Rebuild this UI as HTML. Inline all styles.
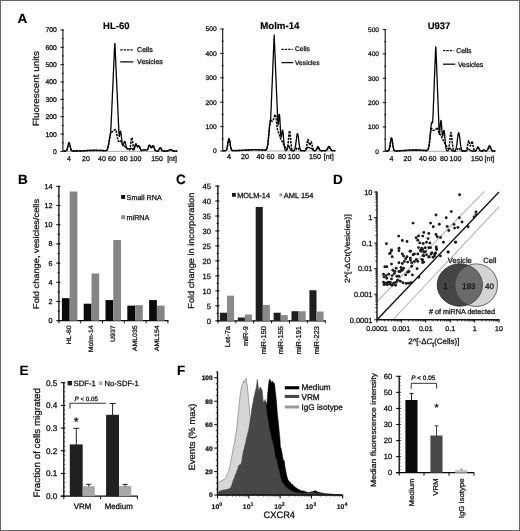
<!DOCTYPE html>
<html lang="en">
<head>
<meta charset="utf-8">
<title>Figure</title>
<style>
html,body{margin:0;padding:0;background:#fff;}
body{width:520px;height:531px;overflow:hidden;position:relative;}
svg{position:absolute;left:0;top:0;display:block;font-family:'Liberation Sans', Arial, sans-serif;}
.frame{position:absolute;left:0;top:0;width:518px;height:529px;border:1px solid #666;}
</style>
</head>
<body>
<svg width="520" height="531" viewBox="0 0 520 531" text-rendering="geometricPrecision">
<text x="17.50" y="23.30" font-size="13.5" font-weight="bold" fill="#000" stroke="#000" stroke-width="0.15">A</text>
<text x="18.00" y="184.00" font-size="13.5" font-weight="bold" fill="#000" stroke="#000" stroke-width="0.15">B</text>
<text x="176.00" y="184.00" font-size="13.5" font-weight="bold" fill="#000" stroke="#000" stroke-width="0.15">C</text>
<text x="333.00" y="184.00" font-size="13.5" font-weight="bold" fill="#000" stroke="#000" stroke-width="0.15">D</text>
<text x="19.50" y="374.80" font-size="13.5" font-weight="bold" fill="#000" stroke="#000" stroke-width="0.15">E</text>
<text x="177.00" y="374.80" font-size="13.5" font-weight="bold" fill="#000" stroke="#000" stroke-width="0.15">F</text>
<line x1="62.90" y1="29.65" x2="62.90" y2="151.90" stroke="#111" stroke-width="1.1" />
<line x1="60.40" y1="151.40" x2="63.90" y2="151.40" stroke="#111" stroke-width="1.0" />
<text x="56.80" y="153.85" font-size="6.8" text-anchor="end" fill="#111" stroke="#111" stroke-width="0.28">0</text>
<line x1="61.70" y1="142.72" x2="63.90" y2="142.72" stroke="#111" stroke-width="0.8" />
<line x1="60.40" y1="134.05" x2="63.90" y2="134.05" stroke="#111" stroke-width="1.0" />
<text x="56.80" y="136.50" font-size="6.8" text-anchor="end" fill="#111" stroke="#111" stroke-width="0.28">100</text>
<line x1="61.70" y1="125.38" x2="63.90" y2="125.38" stroke="#111" stroke-width="0.8" />
<line x1="60.40" y1="116.70" x2="63.90" y2="116.70" stroke="#111" stroke-width="1.0" />
<text x="56.80" y="119.15" font-size="6.8" text-anchor="end" fill="#111" stroke="#111" stroke-width="0.28">200</text>
<line x1="61.70" y1="108.03" x2="63.90" y2="108.03" stroke="#111" stroke-width="0.8" />
<line x1="60.40" y1="99.35" x2="63.90" y2="99.35" stroke="#111" stroke-width="1.0" />
<text x="56.80" y="101.80" font-size="6.8" text-anchor="end" fill="#111" stroke="#111" stroke-width="0.28">300</text>
<line x1="61.70" y1="90.68" x2="63.90" y2="90.68" stroke="#111" stroke-width="0.8" />
<line x1="60.40" y1="82.00" x2="63.90" y2="82.00" stroke="#111" stroke-width="1.0" />
<text x="56.80" y="84.45" font-size="6.8" text-anchor="end" fill="#111" stroke="#111" stroke-width="0.28">400</text>
<line x1="61.70" y1="73.33" x2="63.90" y2="73.33" stroke="#111" stroke-width="0.8" />
<line x1="60.40" y1="64.65" x2="63.90" y2="64.65" stroke="#111" stroke-width="1.0" />
<text x="56.80" y="67.10" font-size="6.8" text-anchor="end" fill="#111" stroke="#111" stroke-width="0.28">500</text>
<line x1="61.70" y1="55.98" x2="63.90" y2="55.98" stroke="#111" stroke-width="0.8" />
<line x1="60.40" y1="47.30" x2="63.90" y2="47.30" stroke="#111" stroke-width="1.0" />
<text x="56.80" y="49.75" font-size="6.8" text-anchor="end" fill="#111" stroke="#111" stroke-width="0.28">600</text>
<line x1="61.70" y1="38.63" x2="63.90" y2="38.63" stroke="#111" stroke-width="0.8" />
<line x1="60.40" y1="29.95" x2="63.90" y2="29.95" stroke="#111" stroke-width="1.0" />
<text x="56.80" y="32.40" font-size="6.8" text-anchor="end" fill="#111" stroke="#111" stroke-width="0.28">700</text>
<line x1="62.90" y1="151.40" x2="178.00" y2="151.40" stroke="#aaa" stroke-width="1.0" />
<text x="69.00" y="160.80" font-size="7.0" text-anchor="middle" fill="#111" stroke="#111" stroke-width="0.28">4</text>
<text x="86.00" y="160.80" font-size="7.0" text-anchor="middle" fill="#111" stroke="#111" stroke-width="0.28">20</text>
<text x="102.00" y="160.80" font-size="7.0" text-anchor="middle" fill="#111" stroke="#111" stroke-width="0.28">40</text>
<text x="112.00" y="160.80" font-size="7.0" text-anchor="middle" fill="#111" stroke="#111" stroke-width="0.28">60</text>
<text x="123.70" y="160.80" font-size="7.0" text-anchor="middle" fill="#111" stroke="#111" stroke-width="0.28">80</text>
<text x="135.50" y="160.80" font-size="7.0" text-anchor="middle" fill="#111" stroke="#111" stroke-width="0.28">100</text>
<text x="157.00" y="160.80" font-size="7.0" text-anchor="middle" fill="#111" stroke="#111" stroke-width="0.28">150</text>
<text x="172.00" y="160.80" font-size="7.0" text-anchor="middle" fill="#111" stroke="#111" stroke-width="0.28">[nt]</text>
<text x="116.30" y="29.20" font-size="9.5" text-anchor="middle" font-weight="bold" fill="#000" stroke="#000" stroke-width="0.15">HL-60</text>
<path d="M63.4,151.1 L63.6,151.1 L63.9,151.1 L64.2,151.1 L64.4,151.1 L64.7,151.1 L64.9,151.1 L65.2,151.1 L65.4,151.1 L65.7,151.0 L65.9,151.0 L66.2,150.8 L66.4,150.6 L66.7,150.3 L66.9,149.9 L67.2,149.2 L67.4,148.4 L67.7,147.5 L67.9,146.5 L68.2,145.4 L68.4,144.5 L68.7,143.8 L68.9,143.5 L69.2,143.5 L69.4,143.9 L69.7,144.7 L69.9,145.6 L70.2,146.7 L70.4,147.7 L70.7,148.6 L70.9,149.4 L71.2,149.9 L71.4,150.4 L71.7,150.7 L71.9,150.8 L72.2,150.9 L72.4,151.0 L72.7,151.0 L72.9,151.1 L73.2,151.1 L73.4,151.1 L73.7,151.1 L73.9,151.1 L74.2,151.1 L74.4,151.0 L74.7,151.0 L74.9,151.0 L75.2,151.0 L75.4,151.0 L75.7,151.0 L75.9,151.0 L76.2,151.0 L76.4,151.0 L76.7,151.0 L76.9,151.0 L77.2,151.0 L77.4,151.0 L77.7,151.0 L77.9,151.0 L78.2,151.0 L78.4,151.0 L78.7,151.0 L78.9,151.0 L79.2,151.0 L79.4,150.9 L79.7,150.9 L79.9,150.9 L80.2,150.9 L80.4,150.9 L80.7,150.9 L80.9,150.9 L81.2,150.9 L81.4,150.9 L81.7,150.9 L81.9,150.9 L82.2,150.8 L82.4,150.8 L82.7,150.8 L82.9,150.8 L83.2,150.8 L83.4,150.8 L83.7,150.8 L83.9,150.8 L84.2,150.8 L84.4,150.8 L84.7,150.7 L84.9,150.7 L85.2,150.7 L85.4,150.7 L85.7,150.7 L85.9,150.7 L86.2,150.7 L86.4,150.7 L86.7,150.6 L86.9,150.6 L87.2,150.6 L87.4,150.6 L87.7,150.6 L87.9,150.6 L88.2,150.6 L88.4,150.6 L88.7,150.6 L88.9,150.5 L89.2,150.5 L89.4,150.5 L89.7,150.5 L89.9,150.5 L90.2,150.5 L90.4,150.5 L90.7,150.5 L90.9,150.5 L91.2,150.5 L91.4,150.5 L91.7,150.5 L91.9,150.4 L92.2,150.4 L92.4,150.4 L92.7,150.4 L92.9,150.4 L93.2,150.4 L93.4,150.4 L93.7,150.4 L93.9,150.4 L94.2,150.4 L94.4,150.4 L94.7,150.4 L94.9,150.4 L95.2,150.4 L95.4,150.4 L95.7,150.4 L95.9,150.4 L96.2,150.4 L96.4,150.4 L96.7,150.4 L96.9,150.4 L97.2,150.4 L97.4,150.4 L97.7,150.4 L97.9,150.4 L98.2,150.4 L98.4,150.5 L98.7,150.5 L98.9,150.5 L99.2,150.5 L99.4,150.5 L99.7,150.5 L99.9,150.5 L100.2,150.5 L100.4,150.5 L100.7,150.5 L100.9,150.5 L101.2,150.6 L101.4,150.6 L101.7,150.6 L101.9,150.6 L102.2,150.6 L102.4,150.6 L102.7,150.6 L102.9,150.6 L103.2,150.6 L103.4,150.7 L103.7,150.7 L103.9,150.7 L104.2,150.7 L104.4,150.7 L104.7,150.7 L104.9,150.7 L105.2,150.7 L105.4,150.7 L105.7,150.7 L105.9,150.6 L106.2,150.5 L106.4,150.4 L106.7,150.2 L106.9,150.0 L107.2,149.6 L107.4,149.2 L107.7,148.5 L107.9,147.8 L108.2,146.8 L108.4,145.7 L108.7,144.4 L108.9,143.0 L109.2,141.4 L109.4,139.9 L109.7,138.3 L109.9,136.9 L110.2,135.6 L110.4,134.5 L110.7,133.6 L110.9,133.0 L111.2,132.6 L111.4,132.3 L111.7,132.1 L111.9,132.0 L112.2,131.9 L112.4,131.8 L112.7,131.6 L112.9,131.5 L113.2,131.2 L113.4,131.0 L113.7,130.8 L113.9,130.5 L114.2,130.2 L114.4,130.0 L114.7,129.7 L114.9,129.6 L115.2,129.5 L115.4,129.5 L115.7,129.8 L115.9,130.3 L116.2,131.1 L116.4,132.2 L116.7,133.5 L116.9,135.0 L117.2,136.4 L117.4,137.9 L117.7,139.1 L117.9,140.1 L118.2,140.8 L118.4,141.3 L118.7,141.4 L118.9,141.4 L119.2,141.2 L119.4,140.9 L119.7,140.7 L119.9,140.6 L120.2,140.5 L120.4,140.6 L120.7,140.8 L120.9,141.2 L121.2,141.6 L121.4,142.1 L121.7,142.6 L121.9,143.1 L122.2,143.5 L122.4,143.9 L122.7,144.3 L122.9,144.6 L123.2,144.9 L123.4,145.1 L123.7,145.4 L123.9,145.6 L124.2,145.9 L124.4,146.1 L124.7,146.4 L124.9,146.6 L125.2,146.9 L125.4,147.1 L125.7,147.3 L125.9,147.5 L126.2,147.7 L126.4,147.8 L126.7,148.0 L126.9,148.2 L127.2,148.4 L127.4,148.6 L127.7,148.9 L127.9,149.1 L128.2,149.4 L128.4,149.6 L128.7,149.8 L128.9,150.0 L129.2,150.0 L129.4,149.9 L129.7,149.6 L129.9,148.9 L130.2,147.9 L130.4,146.4 L130.7,144.5 L130.9,142.4 L131.2,140.3 L131.4,138.7 L131.7,137.7 L131.9,137.6 L132.2,138.4 L132.4,140.0 L132.7,142.0 L132.9,144.1 L133.2,146.0 L133.4,147.4 L133.7,148.4 L133.9,148.8 L134.2,148.7 L134.4,148.2 L134.7,147.4 L134.9,146.4 L135.2,145.4 L135.4,144.6 L135.7,144.1 L135.9,144.0 L136.2,144.3 L136.4,144.8 L136.7,145.5 L136.9,146.1 L137.2,146.6 L137.4,146.9 L137.7,146.8 L137.9,146.6 L138.2,146.3 L138.4,146.0 L138.7,145.8 L138.9,145.8 L139.2,146.1 L139.4,146.6 L139.7,147.2 L139.9,147.8 L140.2,148.5 L140.4,149.1 L140.7,149.6 L140.9,150.0 L141.2,150.2 L141.4,150.4 L141.7,150.4 L141.9,150.4 L142.2,150.4 L142.4,150.3 L142.7,150.2 L142.9,150.1 L143.2,150.0 L143.4,149.9 L143.7,149.8 L143.9,149.8 L144.2,149.7 L144.4,149.7 L144.7,149.7 L144.9,149.7 L145.2,149.8 L145.4,149.8 L145.7,149.9 L145.9,150.0 L146.2,150.1 L146.4,150.1 L146.7,150.1 L146.9,150.0 L147.2,149.9 L147.4,149.6 L147.7,149.2 L147.9,148.6 L148.2,147.9 L148.4,147.1 L148.7,146.3 L148.9,145.6 L149.2,145.1 L149.4,144.8 L149.7,144.8 L149.9,145.1 L150.2,145.6 L150.4,146.3 L150.7,146.9 L150.9,147.4 L151.2,147.7 L151.4,147.7 L151.7,147.5 L151.9,147.0 L152.2,146.5 L152.4,146.0 L152.7,145.6 L152.9,145.3 L153.2,145.4 L153.4,145.7 L153.7,146.3 L153.9,147.0 L154.2,147.8 L154.4,148.6 L154.7,149.2 L154.9,149.8 L155.2,150.3 L155.4,150.6 L155.7,150.8 L155.9,150.9 L156.2,151.0 L156.4,151.1 L156.7,151.1 L156.9,151.1 L157.2,151.1 L157.4,151.1 L157.7,151.0 L157.9,150.9 L158.2,150.8 L158.4,150.6 L158.7,150.3 L158.9,149.9 L159.2,149.5 L159.4,149.0 L159.7,148.6 L159.9,148.2 L160.2,148.0 L160.4,148.0 L160.7,148.2 L160.9,148.5 L161.2,148.9 L161.4,149.4 L161.7,149.8 L161.9,150.2 L162.2,150.5 L162.4,150.8 L162.7,150.9 L162.9,151.0 L163.2,151.0 L163.4,151.1 L163.7,151.1 L163.9,151.1 L164.2,151.1 L164.4,151.1 L164.7,151.1 L164.9,151.1 L165.2,151.1 L165.4,151.1 L165.7,151.1 L165.9,151.1 L166.2,151.1 L166.4,151.1 L166.7,151.0 L166.9,151.0 L167.2,151.0 L167.4,150.9 L167.7,150.9 L167.9,150.8 L168.2,150.7 L168.4,150.6 L168.7,150.5 L168.9,150.4 L169.2,150.2 L169.4,150.1 L169.7,150.0 L169.9,150.0 L170.2,149.9 L170.4,149.9 L170.7,149.9 L170.9,149.9 L171.2,150.0 L171.4,150.1 L171.7,150.2 L171.9,150.3 L172.2,150.4 L172.4,150.5 L172.7,150.6 L172.9,150.7 L173.2,150.8 L173.4,150.9 L173.7,150.9 L173.9,151.0 L174.2,151.0 L174.4,151.0 L174.7,151.1 L174.9,151.1 L175.2,151.1 L175.4,151.1 L175.7,151.1 L175.9,151.1 L176.2,151.1 L176.4,151.1 L176.7,151.1 L176.9,151.1 L177.2,151.1" stroke="#000" stroke-width="1.5" fill="none" stroke-dasharray="2.3,1.0" stroke-linejoin="round"/>
<path d="M63.4,151.1 L63.6,151.1 L63.9,151.1 L64.2,151.1 L64.4,151.1 L64.7,151.1 L64.9,151.1 L65.2,151.1 L65.4,151.1 L65.7,151.0 L65.9,150.9 L66.2,150.8 L66.4,150.6 L66.7,150.2 L66.9,149.7 L67.2,149.0 L67.4,148.1 L67.7,147.0 L67.9,145.8 L68.2,144.7 L68.4,143.6 L68.7,142.8 L68.9,142.4 L69.2,142.5 L69.4,143.0 L69.7,143.8 L69.9,144.9 L70.2,146.1 L70.4,147.2 L70.7,148.3 L70.9,149.1 L71.2,149.8 L71.4,150.3 L71.7,150.6 L71.9,150.8 L72.2,150.9 L72.4,151.0 L72.7,151.0 L72.9,151.0 L73.2,151.0 L73.4,151.0 L73.7,151.0 L73.9,151.0 L74.2,151.0 L74.4,151.0 L74.7,151.0 L74.9,151.0 L75.2,151.0 L75.4,151.0 L75.7,151.0 L75.9,151.0 L76.2,151.0 L76.4,151.0 L76.7,151.0 L76.9,151.0 L77.2,151.0 L77.4,151.0 L77.7,151.0 L77.9,151.0 L78.2,150.9 L78.4,150.9 L78.7,150.9 L78.9,150.9 L79.2,150.9 L79.4,150.9 L79.7,150.9 L79.9,150.9 L80.2,150.9 L80.4,150.9 L80.7,150.9 L80.9,150.8 L81.2,150.8 L81.4,150.8 L81.7,150.8 L81.9,150.8 L82.2,150.8 L82.4,150.8 L82.7,150.8 L82.9,150.7 L83.2,150.7 L83.4,150.7 L83.7,150.7 L83.9,150.7 L84.2,150.7 L84.4,150.7 L84.7,150.7 L84.9,150.6 L85.2,150.6 L85.4,150.6 L85.7,150.6 L85.9,150.6 L86.2,150.6 L86.4,150.6 L86.7,150.5 L86.9,150.5 L87.2,150.5 L87.4,150.5 L87.7,150.5 L87.9,150.5 L88.2,150.5 L88.4,150.4 L88.7,150.4 L88.9,150.4 L89.2,150.4 L89.4,150.4 L89.7,150.4 L89.9,150.4 L90.2,150.3 L90.4,150.3 L90.7,150.3 L90.9,150.3 L91.2,150.3 L91.4,150.3 L91.7,150.3 L91.9,150.3 L92.2,150.3 L92.4,150.3 L92.7,150.3 L92.9,150.3 L93.2,150.3 L93.4,150.2 L93.7,150.2 L93.9,150.2 L94.2,150.2 L94.4,150.2 L94.7,150.2 L94.9,150.2 L95.2,150.2 L95.4,150.2 L95.7,150.2 L95.9,150.2 L96.2,150.2 L96.4,150.2 L96.7,150.2 L96.9,150.3 L97.2,150.3 L97.4,150.3 L97.7,150.3 L97.9,150.3 L98.2,150.3 L98.4,150.3 L98.7,150.3 L98.9,150.3 L99.2,150.3 L99.4,150.3 L99.7,150.3 L99.9,150.4 L100.2,150.4 L100.4,150.4 L100.7,150.4 L100.9,150.4 L101.2,150.4 L101.4,150.4 L101.7,150.4 L101.9,150.5 L102.2,150.5 L102.4,150.5 L102.7,150.5 L102.9,150.5 L103.2,150.5 L103.4,150.5 L103.7,150.6 L103.9,150.6 L104.2,150.6 L104.4,150.6 L104.7,150.6 L104.9,150.6 L105.2,150.6 L105.4,150.6 L105.7,150.6 L105.9,150.6 L106.2,150.5 L106.4,150.4 L106.7,150.2 L106.9,150.0 L107.2,149.6 L107.4,149.1 L107.7,148.4 L107.9,147.5 L108.2,146.5 L108.4,145.2 L108.7,143.7 L108.9,142.2 L109.2,140.5 L109.4,138.9 L109.7,137.4 L109.9,136.1 L110.2,135.1 L110.4,134.1 L110.7,131.9 L110.9,127.8 L111.2,122.7 L111.4,117.3 L111.7,111.8 L111.9,106.2 L112.2,100.6 L112.4,95.0 L112.7,89.4 L112.9,83.8 L113.2,78.1 L113.4,72.5 L113.7,66.9 L113.9,61.3 L114.2,55.7 L114.4,50.1 L114.7,44.5 L114.9,43.3 L115.2,49.0 L115.4,54.6 L115.7,60.2 L115.9,65.8 L116.2,71.4 L116.4,77.0 L116.7,82.6 L116.9,88.2 L117.2,93.9 L117.4,99.5 L117.7,105.1 L117.9,110.7 L118.2,116.3 L118.4,121.9 L118.7,127.4 L118.9,132.7 L119.2,136.4 L119.4,136.3 L119.7,134.6 L119.9,132.9 L120.2,131.7 L120.4,131.1 L120.7,131.5 L120.9,132.6 L121.2,134.5 L121.4,136.9 L121.7,139.3 L121.9,141.7 L122.2,143.6 L122.4,144.9 L122.7,145.6 L122.9,145.7 L123.2,145.3 L123.4,144.6 L123.7,143.7 L123.9,142.7 L124.2,141.9 L124.4,141.4 L124.7,141.3 L124.9,141.6 L125.2,142.2 L125.4,143.1 L125.7,144.1 L125.9,145.2 L126.2,146.3 L126.4,147.2 L126.7,147.9 L126.9,148.4 L127.2,148.7 L127.4,148.9 L127.7,148.9 L127.9,148.9 L128.2,148.9 L128.4,148.9 L128.7,148.9 L128.9,148.8 L129.2,148.8 L129.4,148.8 L129.7,148.8 L129.9,148.8 L130.2,148.7 L130.4,148.6 L130.7,148.5 L130.9,148.4 L131.2,148.3 L131.4,148.4 L131.7,148.5 L131.9,148.6 L132.2,148.9 L132.4,149.2 L132.7,149.5 L132.9,149.7 L133.2,149.9 L133.4,150.0 L133.7,149.9 L133.9,149.6 L134.2,149.1 L134.4,148.4 L134.7,147.4 L134.9,146.4 L135.2,145.4 L135.4,144.6 L135.7,144.1 L135.9,144.0 L136.2,144.3 L136.4,144.8 L136.7,145.5 L136.9,146.1 L137.2,146.6 L137.4,146.9 L137.7,146.8 L137.9,146.6 L138.2,146.3 L138.4,146.0 L138.7,145.8 L138.9,145.8 L139.2,146.1 L139.4,146.6 L139.7,147.2 L139.9,147.8 L140.2,148.5 L140.4,149.1 L140.7,149.6 L140.9,150.0 L141.2,150.2 L141.4,150.4 L141.7,150.4 L141.9,150.4 L142.2,150.4 L142.4,150.3 L142.7,150.2 L142.9,150.1 L143.2,150.0 L143.4,149.9 L143.7,149.8 L143.9,149.8 L144.2,149.7 L144.4,149.7 L144.7,149.7 L144.9,149.7 L145.2,149.8 L145.4,149.8 L145.7,149.9 L145.9,150.0 L146.2,150.1 L146.4,150.1 L146.7,150.1 L146.9,150.1 L147.2,149.9 L147.4,149.7 L147.7,149.3 L147.9,148.7 L148.2,148.1 L148.4,147.3 L148.7,146.6 L148.9,145.9 L149.2,145.4 L149.4,145.1 L149.7,145.2 L149.9,145.4 L150.2,145.9 L150.4,146.5 L150.7,147.1 L150.9,147.6 L151.2,147.9 L151.4,147.9 L151.7,147.7 L151.9,147.3 L152.2,146.8 L152.4,146.3 L152.7,145.9 L152.9,145.7 L153.2,145.7 L153.4,146.1 L153.7,146.6 L153.9,147.2 L154.2,148.0 L154.4,148.7 L154.7,149.4 L154.9,149.9 L155.2,150.3 L155.4,150.6 L155.7,150.8 L155.9,150.9 L156.2,151.0 L156.4,151.1 L156.7,151.1 L156.9,151.1 L157.2,151.1 L157.4,151.0 L157.7,151.0 L157.9,150.9 L158.2,150.8 L158.4,150.5 L158.7,150.2 L158.9,149.8 L159.2,149.3 L159.4,148.8 L159.7,148.3 L159.9,147.9 L160.2,147.7 L160.4,147.6 L160.7,147.8 L160.9,148.2 L161.2,148.7 L161.4,149.2 L161.7,149.7 L161.9,150.1 L162.2,150.5 L162.4,150.7 L162.7,150.9 L162.9,151.0 L163.2,151.0 L163.4,151.1 L163.7,151.1 L163.9,151.1 L164.2,151.1 L164.4,151.1 L164.7,151.1 L164.9,151.1 L165.2,151.1 L165.4,151.1 L165.7,151.1 L165.9,151.1 L166.2,151.1 L166.4,151.0 L166.7,151.0 L166.9,151.0 L167.2,150.9 L167.4,150.9 L167.7,150.8 L167.9,150.7 L168.2,150.6 L168.4,150.4 L168.7,150.3 L168.9,150.2 L169.2,150.0 L169.4,149.9 L169.7,149.7 L169.9,149.6 L170.2,149.6 L170.4,149.5 L170.7,149.5 L170.9,149.6 L171.2,149.7 L171.4,149.8 L171.7,149.9 L171.9,150.0 L172.2,150.2 L172.4,150.3 L172.7,150.5 L172.9,150.6 L173.2,150.7 L173.4,150.8 L173.7,150.9 L173.9,150.9 L174.2,151.0 L174.4,151.0 L174.7,151.0 L174.9,151.1 L175.2,151.1 L175.4,151.1 L175.7,151.1 L175.9,151.1 L176.2,151.1 L176.4,151.1 L176.7,151.1 L176.9,151.1 L177.2,151.1" stroke="#050505" stroke-width="1.3" fill="none" stroke-linejoin="round"/>
<line x1="120.20" y1="49.80" x2="133.30" y2="49.80" stroke="#111" stroke-width="1.2" stroke-dasharray="2.4,1.0"/>
<text x="137.10" y="51.80" font-size="7.0" fill="#111" stroke="#111" stroke-width="0.28">Cells</text>
<line x1="120.20" y1="61.90" x2="133.30" y2="61.90" stroke="#111" stroke-width="1.3" />
<text x="137.10" y="64.40" font-size="7.0" fill="#111" stroke="#111" stroke-width="0.28">Vesicles</text>
<text x="0" y="0" font-size="9.9" text-anchor="middle" fill="#111" transform="translate(39.20 88.60) rotate(-90) scale(1 0.9)" stroke="#111" stroke-width="0.28">Fluorescent units</text>
<line x1="222.70" y1="28.70" x2="222.70" y2="151.50" stroke="#111" stroke-width="1.1" />
<line x1="220.20" y1="151.00" x2="223.70" y2="151.00" stroke="#111" stroke-width="1.0" />
<text x="216.70" y="153.41" font-size="6.7" text-anchor="end" fill="#111" stroke="#111" stroke-width="0.28">0</text>
<line x1="221.50" y1="138.80" x2="223.70" y2="138.80" stroke="#111" stroke-width="0.8" />
<line x1="220.20" y1="126.60" x2="223.70" y2="126.60" stroke="#111" stroke-width="1.0" />
<text x="216.70" y="129.01" font-size="6.7" text-anchor="end" fill="#111" stroke="#111" stroke-width="0.28">100</text>
<line x1="221.50" y1="114.40" x2="223.70" y2="114.40" stroke="#111" stroke-width="0.8" />
<line x1="220.20" y1="102.20" x2="223.70" y2="102.20" stroke="#111" stroke-width="1.0" />
<text x="216.70" y="104.61" font-size="6.7" text-anchor="end" fill="#111" stroke="#111" stroke-width="0.28">200</text>
<line x1="221.50" y1="90.00" x2="223.70" y2="90.00" stroke="#111" stroke-width="0.8" />
<line x1="220.20" y1="77.80" x2="223.70" y2="77.80" stroke="#111" stroke-width="1.0" />
<text x="216.70" y="80.21" font-size="6.7" text-anchor="end" fill="#111" stroke="#111" stroke-width="0.28">300</text>
<line x1="221.50" y1="65.60" x2="223.70" y2="65.60" stroke="#111" stroke-width="0.8" />
<line x1="220.20" y1="53.40" x2="223.70" y2="53.40" stroke="#111" stroke-width="1.0" />
<text x="216.70" y="55.81" font-size="6.7" text-anchor="end" fill="#111" stroke="#111" stroke-width="0.28">400</text>
<line x1="221.50" y1="41.20" x2="223.70" y2="41.20" stroke="#111" stroke-width="0.8" />
<line x1="220.20" y1="29.00" x2="223.70" y2="29.00" stroke="#111" stroke-width="1.0" />
<text x="216.70" y="31.41" font-size="6.7" text-anchor="end" fill="#111" stroke="#111" stroke-width="0.28">500</text>
<line x1="222.70" y1="151.00" x2="336.00" y2="151.00" stroke="#aaa" stroke-width="1.0" />
<text x="229.00" y="158.50" font-size="7.2" text-anchor="middle" fill="#111" stroke="#111" stroke-width="0.28">4</text>
<text x="245.00" y="158.50" font-size="7.2" text-anchor="middle" fill="#111" stroke="#111" stroke-width="0.28">20</text>
<text x="260.50" y="158.50" font-size="7.2" text-anchor="middle" fill="#111" stroke="#111" stroke-width="0.28">40</text>
<text x="270.50" y="158.50" font-size="7.2" text-anchor="middle" fill="#111" stroke="#111" stroke-width="0.28">60</text>
<text x="282.00" y="158.50" font-size="7.2" text-anchor="middle" fill="#111" stroke="#111" stroke-width="0.28">80</text>
<text x="293.70" y="158.50" font-size="7.2" text-anchor="middle" fill="#111" stroke="#111" stroke-width="0.28">100</text>
<text x="315.00" y="158.50" font-size="7.2" text-anchor="middle" fill="#111" stroke="#111" stroke-width="0.28">150</text>
<text x="328.70" y="158.50" font-size="7.2" text-anchor="middle" fill="#111" stroke="#111" stroke-width="0.28">[nt]</text>
<text x="279.80" y="28.80" font-size="9.7" text-anchor="middle" font-weight="bold" fill="#000" stroke="#000" stroke-width="0.15">Molm-14</text>
<path d="M223.2,150.7 L223.4,150.7 L223.7,150.7 L223.9,150.7 L224.2,150.7 L224.4,150.7 L224.7,150.7 L224.9,150.7 L225.2,150.7 L225.4,150.6 L225.7,150.6 L225.9,150.4 L226.2,150.2 L226.4,149.9 L226.7,149.4 L226.9,148.6 L227.2,147.6 L227.4,146.4 L227.7,144.9 L227.9,143.3 L228.2,141.7 L228.4,140.4 L228.7,139.4 L228.9,139.0 L229.2,139.2 L229.4,139.9 L229.7,141.1 L229.9,142.6 L230.2,144.2 L230.4,145.8 L230.7,147.1 L230.9,148.2 L231.2,149.1 L231.4,149.7 L231.7,150.1 L231.9,150.3 L232.2,150.5 L232.4,150.6 L232.7,150.6 L232.9,150.6 L233.2,150.6 L233.4,150.6 L233.7,150.6 L233.9,150.6 L234.2,150.6 L234.4,150.6 L234.7,150.6 L234.9,150.6 L235.2,150.6 L235.4,150.6 L235.7,150.6 L235.9,150.6 L236.2,150.6 L236.4,150.6 L236.7,150.6 L236.9,150.6 L237.2,150.6 L237.4,150.6 L237.7,150.5 L237.9,150.5 L238.2,150.5 L238.4,150.5 L238.7,150.5 L238.9,150.5 L239.2,150.5 L239.4,150.5 L239.7,150.5 L239.9,150.5 L240.2,150.4 L240.4,150.4 L240.7,150.4 L240.9,150.4 L241.2,150.4 L241.4,150.4 L241.7,150.4 L241.9,150.4 L242.2,150.3 L242.4,150.3 L242.7,150.3 L242.9,150.3 L243.2,150.3 L243.4,150.3 L243.7,150.3 L243.9,150.2 L244.2,150.2 L244.4,150.2 L244.7,150.2 L244.9,150.2 L245.2,150.2 L245.4,150.1 L245.7,150.1 L245.9,150.1 L246.2,150.1 L246.4,150.1 L246.7,150.1 L246.9,150.0 L247.2,150.0 L247.4,150.0 L247.7,150.0 L247.9,150.0 L248.2,150.0 L248.4,150.0 L248.7,149.9 L248.9,149.9 L249.2,149.9 L249.4,149.9 L249.7,149.9 L249.9,149.9 L250.2,149.9 L250.4,149.8 L250.7,149.8 L250.9,149.8 L251.2,149.8 L251.4,149.8 L251.7,149.8 L251.9,149.8 L252.2,149.8 L252.4,149.8 L252.7,149.8 L252.9,149.7 L253.2,149.7 L253.4,149.7 L253.7,149.7 L253.9,149.7 L254.2,149.7 L254.4,149.7 L254.7,149.7 L254.9,149.7 L255.2,149.7 L255.4,149.7 L255.7,149.7 L255.9,149.7 L256.2,149.7 L256.4,149.7 L256.7,149.7 L256.9,149.7 L257.2,149.8 L257.4,149.8 L257.7,149.8 L257.9,149.8 L258.2,149.8 L258.4,149.8 L258.7,149.8 L258.9,149.8 L259.2,149.8 L259.4,149.8 L259.7,149.8 L259.9,149.9 L260.2,149.9 L260.4,149.9 L260.7,149.9 L260.9,149.9 L261.2,149.9 L261.4,149.9 L261.7,150.0 L261.9,150.0 L262.2,150.0 L262.4,150.0 L262.7,150.0 L262.9,150.0 L263.2,150.1 L263.4,150.1 L263.7,150.1 L263.9,150.1 L264.2,150.1 L264.4,150.1 L264.7,150.1 L264.9,150.1 L265.2,150.1 L265.4,150.1 L265.7,150.0 L265.9,149.9 L266.2,149.8 L266.4,149.5 L266.7,149.1 L266.9,148.5 L267.2,147.8 L267.4,146.7 L267.7,145.3 L267.9,143.6 L268.2,141.5 L268.4,139.1 L268.7,136.4 L268.9,133.5 L269.2,130.6 L269.4,127.8 L269.7,125.2 L269.9,123.1 L270.2,121.4 L270.4,120.4 L270.7,119.8 L270.9,119.7 L271.2,120.0 L271.4,120.4 L271.7,120.8 L271.9,121.1 L272.2,121.2 L272.4,121.1 L272.7,120.9 L272.9,120.5 L273.2,120.0 L273.4,119.5 L273.7,118.8 L273.9,118.1 L274.2,117.2 L274.4,116.3 L274.7,115.4 L274.9,114.8 L275.2,114.5 L275.4,114.8 L275.7,115.6 L275.9,117.0 L276.2,119.0 L276.4,121.2 L276.7,123.5 L276.9,125.7 L277.2,127.6 L277.4,129.1 L277.7,130.2 L277.9,131.1 L278.2,131.7 L278.4,132.3 L278.7,132.8 L278.9,133.4 L279.2,134.2 L279.4,135.0 L279.7,135.8 L279.9,136.7 L280.2,137.4 L280.4,138.1 L280.7,138.7 L280.9,139.3 L281.2,139.7 L281.4,140.1 L281.7,140.5 L281.9,141.0 L282.2,141.4 L282.4,141.9 L282.7,142.4 L282.9,142.9 L283.2,143.4 L283.4,143.9 L283.7,144.4 L283.9,144.8 L284.2,145.3 L284.4,145.7 L284.7,146.2 L284.9,146.6 L285.2,147.0 L285.4,147.5 L285.7,147.9 L285.9,148.4 L286.2,148.7 L286.4,149.0 L286.7,149.2 L286.9,149.2 L287.2,148.9 L287.4,148.2 L287.7,147.1 L287.9,145.3 L288.2,143.0 L288.4,140.3 L288.7,137.3 L288.9,134.5 L289.2,132.2 L289.4,130.9 L289.7,130.8 L289.9,131.9 L290.2,134.0 L290.4,136.8 L290.7,139.8 L290.9,142.7 L291.2,145.1 L291.4,147.1 L291.7,148.5 L291.9,149.4 L292.2,150.0 L292.4,150.4 L292.7,150.5 L292.9,150.6 L293.2,150.7 L293.4,150.7 L293.7,150.7 L293.9,150.7 L294.2,150.6 L294.4,150.6 L294.7,150.5 L294.9,150.4 L295.2,150.2 L295.4,150.0 L295.7,149.7 L295.9,149.4 L296.2,149.1 L296.4,148.7 L296.7,148.4 L296.9,148.1 L297.2,147.9 L297.4,147.8 L297.7,147.8 L297.9,148.0 L298.2,148.2 L298.4,148.6 L298.7,148.9 L298.9,149.3 L299.2,149.6 L299.4,149.9 L299.7,150.2 L299.9,150.3 L300.2,150.5 L300.4,150.6 L300.7,150.6 L300.9,150.7 L301.2,150.7 L301.4,150.7 L301.7,150.7 L301.9,150.7 L302.2,150.7 L302.4,150.7 L302.7,150.7 L302.9,150.7 L303.2,150.7 L303.4,150.7 L303.7,150.7 L303.9,150.7 L304.2,150.7 L304.4,150.7 L304.7,150.7 L304.9,150.6 L305.2,150.5 L305.4,150.3 L305.7,149.9 L305.9,149.3 L306.2,148.5 L306.4,147.3 L306.7,145.9 L306.9,144.2 L307.2,142.5 L307.4,141.0 L307.7,140.0 L307.9,139.4 L308.2,139.6 L308.4,140.4 L308.7,141.5 L308.9,142.9 L309.2,144.0 L309.4,144.9 L309.7,145.2 L309.9,145.0 L310.2,144.4 L310.4,143.5 L310.7,142.7 L310.9,142.0 L311.2,141.8 L311.4,142.2 L311.7,142.9 L311.9,144.1 L312.2,145.4 L312.4,146.7 L312.7,147.8 L312.9,148.8 L313.2,149.5 L313.4,150.0 L313.7,150.3 L313.9,150.5 L314.2,150.6 L314.4,150.6 L314.7,150.7 L314.9,150.7 L315.2,150.6 L315.4,150.6 L315.7,150.5 L315.9,150.3 L316.2,150.0 L316.4,149.7 L316.7,149.2 L316.9,148.7 L317.2,148.2 L317.4,147.8 L317.7,147.4 L317.9,147.3 L318.2,147.4 L318.4,147.6 L318.7,148.0 L318.9,148.5 L319.2,149.0 L319.4,149.5 L319.7,149.9 L319.9,150.2 L320.2,150.4 L320.4,150.5 L320.7,150.6 L320.9,150.7 L321.2,150.7 L321.4,150.7 L321.7,150.7 L321.9,150.7 L322.2,150.7 L322.4,150.7 L322.7,150.7 L322.9,150.7 L323.2,150.7 L323.4,150.7 L323.7,150.7 L323.9,150.7 L324.2,150.7 L324.4,150.7 L324.7,150.7 L324.9,150.7 L325.2,150.7 L325.4,150.7 L325.7,150.6 L325.9,150.6 L326.2,150.5 L326.4,150.3 L326.7,150.2 L326.9,149.9 L327.2,149.6 L327.4,149.2 L327.7,148.8 L327.9,148.4 L328.2,148.0 L328.4,147.6 L328.7,147.4 L328.9,147.3 L329.2,147.3 L329.4,147.5 L329.7,147.8 L329.9,148.2 L330.2,148.6 L330.4,149.1 L330.7,149.4 L330.9,149.8 L331.2,150.1 L331.4,150.3 L331.7,150.4 L331.9,150.5 L332.2,150.6 L332.4,150.6 L332.7,150.7 L332.9,150.7 L333.2,150.7 L333.4,150.7 L333.7,150.7 L333.9,150.7 L334.2,150.7 L334.4,150.7 L334.7,150.7 L334.9,150.7 L335.2,150.7" stroke="#000" stroke-width="1.5" fill="none" stroke-dasharray="2.3,1.0" stroke-linejoin="round"/>
<path d="M223.2,150.7 L223.4,150.7 L223.7,150.7 L223.9,150.7 L224.2,150.7 L224.4,150.7 L224.7,150.7 L224.9,150.7 L225.2,150.7 L225.4,150.6 L225.7,150.6 L225.9,150.4 L226.2,150.2 L226.4,149.9 L226.7,149.3 L226.9,148.5 L227.2,147.5 L227.4,146.2 L227.7,144.6 L227.9,143.0 L228.2,141.3 L228.4,139.9 L228.7,138.9 L228.9,138.5 L229.2,138.7 L229.4,139.5 L229.7,140.7 L229.9,142.3 L230.2,143.9 L230.4,145.6 L230.7,147.0 L230.9,148.1 L231.2,149.0 L231.4,149.6 L231.7,150.1 L231.9,150.3 L232.2,150.5 L232.4,150.6 L232.7,150.6 L232.9,150.6 L233.2,150.6 L233.4,150.6 L233.7,150.6 L233.9,150.6 L234.2,150.6 L234.4,150.6 L234.7,150.6 L234.9,150.6 L235.2,150.6 L235.4,150.6 L235.7,150.6 L235.9,150.6 L236.2,150.6 L236.4,150.6 L236.7,150.6 L236.9,150.6 L237.2,150.6 L237.4,150.6 L237.7,150.5 L237.9,150.5 L238.2,150.5 L238.4,150.5 L238.7,150.5 L238.9,150.5 L239.2,150.5 L239.4,150.5 L239.7,150.5 L239.9,150.5 L240.2,150.4 L240.4,150.4 L240.7,150.4 L240.9,150.4 L241.2,150.4 L241.4,150.4 L241.7,150.4 L241.9,150.4 L242.2,150.3 L242.4,150.3 L242.7,150.3 L242.9,150.3 L243.2,150.3 L243.4,150.3 L243.7,150.3 L243.9,150.2 L244.2,150.2 L244.4,150.2 L244.7,150.2 L244.9,150.2 L245.2,150.2 L245.4,150.1 L245.7,150.1 L245.9,150.1 L246.2,150.1 L246.4,150.1 L246.7,150.1 L246.9,150.0 L247.2,150.0 L247.4,150.0 L247.7,150.0 L247.9,150.0 L248.2,150.0 L248.4,150.0 L248.7,149.9 L248.9,149.9 L249.2,149.9 L249.4,149.9 L249.7,149.9 L249.9,149.9 L250.2,149.9 L250.4,149.8 L250.7,149.8 L250.9,149.8 L251.2,149.8 L251.4,149.8 L251.7,149.8 L251.9,149.8 L252.2,149.8 L252.4,149.8 L252.7,149.8 L252.9,149.7 L253.2,149.7 L253.4,149.7 L253.7,149.7 L253.9,149.7 L254.2,149.7 L254.4,149.7 L254.7,149.7 L254.9,149.7 L255.2,149.7 L255.4,149.7 L255.7,149.7 L255.9,149.7 L256.2,149.7 L256.4,149.7 L256.7,149.7 L256.9,149.7 L257.2,149.8 L257.4,149.8 L257.7,149.8 L257.9,149.8 L258.2,149.8 L258.4,149.8 L258.7,149.8 L258.9,149.8 L259.2,149.8 L259.4,149.8 L259.7,149.8 L259.9,149.9 L260.2,149.9 L260.4,149.9 L260.7,149.9 L260.9,149.9 L261.2,149.9 L261.4,149.9 L261.7,150.0 L261.9,150.0 L262.2,150.0 L262.4,150.0 L262.7,150.0 L262.9,150.0 L263.2,150.1 L263.4,150.1 L263.7,150.1 L263.9,150.1 L264.2,150.1 L264.4,150.1 L264.7,150.1 L264.9,150.1 L265.2,150.1 L265.4,150.1 L265.7,150.1 L265.9,150.0 L266.2,149.8 L266.4,149.5 L266.7,149.1 L266.9,148.5 L267.2,147.7 L267.4,146.5 L267.7,145.0 L267.9,143.1 L268.2,140.9 L268.4,138.3 L268.7,135.6 L268.9,132.7 L269.2,130.0 L269.4,127.6 L269.7,125.7 L269.9,124.3 L270.2,123.1 L270.4,121.1 L270.7,117.6 L270.9,112.7 L271.2,107.1 L271.4,101.2 L271.7,95.3 L271.9,89.3 L272.2,83.2 L272.4,77.2 L272.7,71.2 L272.9,65.2 L273.2,59.1 L273.4,53.1 L273.7,47.1 L273.9,41.1 L274.2,35.0 L274.4,41.1 L274.7,47.1 L274.9,53.1 L275.2,59.1 L275.4,65.2 L275.7,71.2 L275.9,77.2 L276.2,83.2 L276.4,89.3 L276.7,95.3 L276.9,101.3 L277.2,107.2 L277.4,113.1 L277.7,118.7 L277.9,123.3 L278.2,124.7 L278.4,122.5 L278.7,119.1 L278.9,116.1 L279.2,114.3 L279.4,114.3 L279.7,116.3 L279.9,120.0 L280.2,124.7 L280.4,129.5 L280.7,133.5 L280.9,136.1 L281.2,137.2 L281.4,136.7 L281.7,135.1 L281.9,133.1 L282.2,131.3 L282.4,130.2 L282.7,130.2 L282.9,131.4 L283.2,133.6 L283.4,136.4 L283.7,139.5 L283.9,142.5 L284.2,145.0 L284.4,147.0 L284.7,148.4 L284.9,149.4 L285.2,150.0 L285.4,150.3 L285.7,150.5 L285.9,150.5 L286.2,150.5 L286.4,150.3 L286.7,150.0 L286.9,149.6 L287.2,149.1 L287.4,148.5 L287.7,147.7 L287.9,147.0 L288.2,146.4 L288.4,146.0 L288.7,145.8 L288.9,146.0 L289.2,146.4 L289.4,147.0 L289.7,147.7 L289.9,148.5 L290.2,149.1 L290.4,149.6 L290.7,150.0 L290.9,150.3 L291.2,150.5 L291.4,150.6 L291.7,150.6 L291.9,150.7 L292.2,150.7 L292.4,150.7 L292.7,150.7 L292.9,150.7 L293.2,150.7 L293.4,150.6 L293.7,150.5 L293.9,150.4 L294.2,150.2 L294.4,149.8 L294.7,149.3 L294.9,148.6 L295.2,147.6 L295.4,146.2 L295.7,144.6 L295.9,142.8 L296.2,140.8 L296.4,138.7 L296.7,136.8 L296.9,135.2 L297.2,134.1 L297.4,133.6 L297.7,133.8 L297.9,134.7 L298.2,136.1 L298.4,137.9 L298.7,139.9 L298.9,142.0 L299.2,143.9 L299.4,145.6 L299.7,147.1 L299.9,148.2 L300.2,149.0 L300.4,149.6 L300.7,150.1 L300.9,150.3 L301.2,150.5 L301.4,150.6 L301.7,150.6 L301.9,150.7 L302.2,150.7 L302.4,150.7 L302.7,150.7 L302.9,150.7 L303.2,150.7 L303.4,150.7 L303.7,150.7 L303.9,150.7 L304.2,150.7 L304.4,150.7 L304.7,150.6 L304.9,150.6 L305.2,150.5 L305.4,150.3 L305.7,150.2 L305.9,149.9 L306.2,149.6 L306.4,149.2 L306.7,148.8 L306.9,148.4 L307.2,147.9 L307.4,147.6 L307.7,147.3 L307.9,147.2 L308.2,147.2 L308.4,147.3 L308.7,147.4 L308.9,147.6 L309.2,147.8 L309.4,148.0 L309.7,148.1 L309.9,148.1 L310.2,148.1 L310.4,148.1 L310.7,148.1 L310.9,148.1 L311.2,148.2 L311.4,148.4 L311.7,148.6 L311.9,148.9 L312.2,149.2 L312.4,149.5 L312.7,149.8 L312.9,150.0 L313.2,150.2 L313.4,150.4 L313.7,150.5 L313.9,150.6 L314.2,150.6 L314.4,150.7 L314.7,150.7 L314.9,150.6 L315.2,150.6 L315.4,150.5 L315.7,150.4 L315.9,150.2 L316.2,149.9 L316.4,149.5 L316.7,148.9 L316.9,148.3 L317.2,147.7 L317.4,147.1 L317.7,146.7 L317.9,146.6 L318.2,146.6 L318.4,147.0 L318.7,147.5 L318.9,148.1 L319.2,148.7 L319.4,149.3 L319.7,149.7 L319.9,150.1 L320.2,150.3 L320.4,150.5 L320.7,150.6 L320.9,150.6 L321.2,150.7 L321.4,150.7 L321.7,150.7 L321.9,150.7 L322.2,150.7 L322.4,150.7 L322.7,150.7 L322.9,150.7 L323.2,150.7 L323.4,150.7 L323.7,150.7 L323.9,150.7 L324.2,150.7 L324.4,150.7 L324.7,150.7 L324.9,150.7 L325.2,150.7 L325.4,150.6 L325.7,150.6 L325.9,150.5 L326.2,150.4 L326.4,150.2 L326.7,150.0 L326.9,149.7 L327.2,149.3 L327.4,148.8 L327.7,148.3 L327.9,147.7 L328.2,147.2 L328.4,146.7 L328.7,146.4 L328.9,146.3 L329.2,146.4 L329.4,146.6 L329.7,147.0 L329.9,147.5 L330.2,148.0 L330.4,148.6 L330.7,149.1 L330.9,149.5 L331.2,149.9 L331.4,150.2 L331.7,150.4 L331.9,150.5 L332.2,150.6 L332.4,150.6 L332.7,150.7 L332.9,150.7 L333.2,150.7 L333.4,150.7 L333.7,150.7 L333.9,150.7 L334.2,150.7 L334.4,150.7 L334.7,150.7 L334.9,150.7 L335.2,150.7" stroke="#050505" stroke-width="1.3" fill="none" stroke-linejoin="round"/>
<line x1="281.40" y1="49.40" x2="292.70" y2="49.40" stroke="#111" stroke-width="1.2" stroke-dasharray="2.4,1.0"/>
<text x="295.00" y="51.40" font-size="6.7" fill="#111" stroke="#111" stroke-width="0.28">Cells</text>
<line x1="281.40" y1="62.60" x2="293.20" y2="62.60" stroke="#111" stroke-width="1.3" />
<text x="295.00" y="65.10" font-size="6.7" fill="#111" stroke="#111" stroke-width="0.28">Vesicles</text>
<line x1="385.20" y1="29.25" x2="385.20" y2="151.80" stroke="#111" stroke-width="1.1" />
<line x1="382.70" y1="151.30" x2="386.20" y2="151.30" stroke="#111" stroke-width="1.0" />
<text x="379.00" y="153.68" font-size="6.6" text-anchor="end" fill="#111" stroke="#111" stroke-width="0.28">0</text>
<line x1="384.00" y1="139.12" x2="386.20" y2="139.12" stroke="#111" stroke-width="0.8" />
<line x1="382.70" y1="126.95" x2="386.20" y2="126.95" stroke="#111" stroke-width="1.0" />
<text x="379.00" y="129.33" font-size="6.6" text-anchor="end" fill="#111" stroke="#111" stroke-width="0.28">100</text>
<line x1="384.00" y1="114.78" x2="386.20" y2="114.78" stroke="#111" stroke-width="0.8" />
<line x1="382.70" y1="102.60" x2="386.20" y2="102.60" stroke="#111" stroke-width="1.0" />
<text x="379.00" y="104.98" font-size="6.6" text-anchor="end" fill="#111" stroke="#111" stroke-width="0.28">200</text>
<line x1="384.00" y1="90.43" x2="386.20" y2="90.43" stroke="#111" stroke-width="0.8" />
<line x1="382.70" y1="78.25" x2="386.20" y2="78.25" stroke="#111" stroke-width="1.0" />
<text x="379.00" y="80.63" font-size="6.6" text-anchor="end" fill="#111" stroke="#111" stroke-width="0.28">300</text>
<line x1="384.00" y1="66.08" x2="386.20" y2="66.08" stroke="#111" stroke-width="0.8" />
<line x1="382.70" y1="53.90" x2="386.20" y2="53.90" stroke="#111" stroke-width="1.0" />
<text x="379.00" y="56.28" font-size="6.6" text-anchor="end" fill="#111" stroke="#111" stroke-width="0.28">400</text>
<line x1="384.00" y1="41.73" x2="386.20" y2="41.73" stroke="#111" stroke-width="0.8" />
<line x1="382.70" y1="29.55" x2="386.20" y2="29.55" stroke="#111" stroke-width="1.0" />
<text x="379.00" y="31.93" font-size="6.6" text-anchor="end" fill="#111" stroke="#111" stroke-width="0.28">500</text>
<line x1="385.20" y1="151.30" x2="496.00" y2="151.30" stroke="#aaa" stroke-width="1.0" />
<text x="391.50" y="160.70" font-size="7.1" text-anchor="middle" fill="#111" stroke="#111" stroke-width="0.28">4</text>
<text x="407.50" y="160.70" font-size="7.1" text-anchor="middle" fill="#111" stroke="#111" stroke-width="0.28">20</text>
<text x="423.00" y="160.70" font-size="7.1" text-anchor="middle" fill="#111" stroke="#111" stroke-width="0.28">40</text>
<text x="432.50" y="160.70" font-size="7.1" text-anchor="middle" fill="#111" stroke="#111" stroke-width="0.28">60</text>
<text x="444.00" y="160.70" font-size="7.1" text-anchor="middle" fill="#111" stroke="#111" stroke-width="0.28">80</text>
<text x="455.50" y="160.70" font-size="7.1" text-anchor="middle" fill="#111" stroke="#111" stroke-width="0.28">100</text>
<text x="477.00" y="160.70" font-size="7.1" text-anchor="middle" fill="#111" stroke="#111" stroke-width="0.28">150</text>
<text x="489.50" y="160.70" font-size="7.1" text-anchor="middle" fill="#111" stroke="#111" stroke-width="0.28">[nt]</text>
<text x="439.00" y="28.80" font-size="9.5" text-anchor="middle" font-weight="bold" fill="#000" stroke="#000" stroke-width="0.15">U937</text>
<path d="M385.7,151.0 L385.9,151.0 L386.2,151.0 L386.4,151.0 L386.7,151.0 L386.9,151.0 L387.2,151.0 L387.4,151.0 L387.7,151.0 L387.9,150.9 L388.2,150.8 L388.4,150.7 L388.7,150.5 L388.9,150.1 L389.2,149.6 L389.4,148.8 L389.7,147.7 L389.9,146.3 L390.2,144.7 L390.4,142.9 L390.7,141.3 L390.9,139.8 L391.2,138.8 L391.4,138.3 L391.7,138.5 L391.9,139.3 L392.2,140.6 L392.4,142.2 L392.7,144.0 L392.9,145.6 L393.2,147.1 L393.4,148.3 L393.7,149.2 L393.9,149.9 L394.2,150.3 L394.4,150.6 L394.7,150.7 L394.9,150.8 L395.2,150.9 L395.4,150.9 L395.7,150.9 L395.9,150.9 L396.2,150.9 L396.4,150.9 L396.7,150.9 L396.9,150.9 L397.2,150.9 L397.4,150.9 L397.7,150.8 L397.9,150.8 L398.2,150.8 L398.4,150.8 L398.7,150.8 L398.9,150.8 L399.2,150.8 L399.4,150.8 L399.7,150.8 L399.9,150.8 L400.2,150.7 L400.4,150.7 L400.7,150.7 L400.9,150.7 L401.2,150.7 L401.4,150.7 L401.7,150.7 L401.9,150.7 L402.2,150.6 L402.4,150.6 L402.7,150.6 L402.9,150.6 L403.2,150.6 L403.4,150.6 L403.7,150.6 L403.9,150.5 L404.2,150.5 L404.4,150.5 L404.7,150.5 L404.9,150.5 L405.2,150.5 L405.4,150.4 L405.7,150.4 L405.9,150.4 L406.2,150.4 L406.4,150.4 L406.7,150.4 L406.9,150.3 L407.2,150.3 L407.4,150.3 L407.7,150.3 L407.9,150.3 L408.2,150.3 L408.4,150.3 L408.7,150.2 L408.9,150.2 L409.2,150.2 L409.4,150.2 L409.7,150.2 L409.9,150.2 L410.2,150.2 L410.4,150.1 L410.7,150.1 L410.9,150.1 L411.2,150.1 L411.4,150.1 L411.7,150.1 L411.9,150.1 L412.2,150.1 L412.4,150.1 L412.7,150.1 L412.9,150.1 L413.2,150.0 L413.4,150.0 L413.7,150.0 L413.9,150.0 L414.2,150.0 L414.4,150.0 L414.7,150.0 L414.9,150.0 L415.2,150.0 L415.4,150.0 L415.7,150.0 L415.9,150.0 L416.2,150.0 L416.4,150.0 L416.7,150.0 L416.9,150.0 L417.2,150.1 L417.4,150.1 L417.7,150.1 L417.9,150.1 L418.2,150.1 L418.4,150.1 L418.7,150.1 L418.9,150.1 L419.2,150.1 L419.4,150.1 L419.7,150.2 L419.9,150.2 L420.2,150.2 L420.4,150.2 L420.7,150.2 L420.9,150.2 L421.2,150.2 L421.4,150.2 L421.7,150.3 L421.9,150.3 L422.2,150.3 L422.4,150.3 L422.7,150.3 L422.9,150.3 L423.2,150.4 L423.4,150.4 L423.7,150.4 L423.9,150.4 L424.2,150.4 L424.4,150.4 L424.7,150.5 L424.9,150.5 L425.2,150.5 L425.4,150.5 L425.7,150.5 L425.9,150.5 L426.2,150.5 L426.4,150.5 L426.7,150.5 L426.9,150.4 L427.2,150.3 L427.4,150.1 L427.7,149.8 L427.9,149.4 L428.2,148.8 L428.4,148.0 L428.7,147.0 L428.9,145.8 L429.2,144.3 L429.4,142.5 L429.7,140.5 L429.9,138.4 L430.2,136.3 L430.4,134.3 L430.7,132.4 L430.9,130.9 L431.2,129.7 L431.4,128.9 L431.7,128.6 L431.9,128.6 L432.2,128.9 L432.4,129.3 L432.7,129.8 L432.9,130.2 L433.2,130.4 L433.4,130.5 L433.7,130.5 L433.9,130.4 L434.2,130.3 L434.4,130.2 L434.7,130.1 L434.9,130.1 L435.2,130.1 L435.4,129.9 L435.7,129.7 L435.9,129.4 L436.2,128.9 L436.4,128.3 L436.7,127.8 L436.9,127.5 L437.2,127.5 L437.4,127.7 L437.7,128.3 L437.9,129.1 L438.2,130.2 L438.4,131.2 L438.7,132.2 L438.9,133.1 L439.2,133.7 L439.4,134.1 L439.7,134.3 L439.9,134.4 L440.2,134.4 L440.4,134.5 L440.7,134.8 L440.9,135.2 L441.2,135.7 L441.4,136.3 L441.7,137.0 L441.9,137.7 L442.2,138.4 L442.4,138.9 L442.7,139.4 L442.9,139.8 L443.2,140.2 L443.4,140.6 L443.7,141.0 L443.9,141.4 L444.2,141.8 L444.4,142.3 L444.7,142.8 L444.9,143.3 L445.2,143.8 L445.4,144.2 L445.7,144.7 L445.9,145.2 L446.2,145.6 L446.4,146.0 L446.7,146.5 L446.9,146.9 L447.2,147.3 L447.4,147.7 L447.7,148.1 L447.9,148.4 L448.2,148.6 L448.4,148.5 L448.7,148.1 L448.9,147.3 L449.2,146.1 L449.4,144.3 L449.7,142.0 L449.9,139.5 L450.2,137.0 L450.4,134.8 L450.7,133.2 L450.9,132.5 L451.2,132.8 L451.4,134.1 L451.7,136.2 L451.9,138.7 L452.2,141.4 L452.4,143.9 L452.7,146.0 L452.9,147.7 L453.2,148.9 L453.4,149.8 L453.7,150.3 L453.9,150.6 L454.2,150.8 L454.4,150.9 L454.7,151.0 L454.9,151.0 L455.2,151.0 L455.4,150.9 L455.7,150.9 L455.9,150.8 L456.2,150.7 L456.4,150.5 L456.7,150.3 L456.9,150.0 L457.2,149.7 L457.4,149.3 L457.7,148.9 L457.9,148.6 L458.2,148.3 L458.4,148.1 L458.7,148.1 L458.9,148.1 L459.2,148.3 L459.4,148.6 L459.7,148.9 L459.9,149.3 L460.2,149.7 L460.4,150.0 L460.7,150.3 L460.9,150.5 L461.2,150.7 L461.4,150.8 L461.7,150.9 L461.9,150.9 L462.2,151.0 L462.4,151.0 L462.7,151.0 L462.9,151.0 L463.2,151.0 L463.4,151.0 L463.7,151.0 L463.9,151.0 L464.2,151.0 L464.4,151.0 L464.7,151.0 L464.9,151.0 L465.2,151.0 L465.4,150.9 L465.7,150.9 L465.9,150.8 L466.2,150.6 L466.4,150.2 L466.7,149.6 L466.9,148.8 L467.2,147.7 L467.4,146.3 L467.7,144.8 L467.9,143.3 L468.2,142.0 L468.4,141.1 L468.7,140.7 L468.9,141.0 L469.2,141.8 L469.4,142.9 L469.7,144.1 L469.9,145.1 L470.2,145.8 L470.4,145.9 L470.7,145.4 L470.9,144.6 L471.2,143.5 L471.4,142.4 L471.7,141.6 L471.9,141.2 L472.2,141.4 L472.4,142.2 L472.7,143.4 L472.9,144.8 L473.2,146.3 L473.4,147.6 L473.7,148.7 L473.9,149.5 L474.2,150.1 L474.4,150.5 L474.7,150.7 L474.9,150.8 L475.2,150.9 L475.4,150.8 L475.7,150.7 L475.9,150.6 L476.2,150.3 L476.4,150.0 L476.7,149.5 L476.9,149.0 L477.2,148.5 L477.4,148.1 L477.7,147.7 L477.9,147.6 L478.2,147.7 L478.4,147.9 L478.7,148.3 L478.9,148.8 L479.2,149.3 L479.4,149.8 L479.7,150.2 L479.9,150.5 L480.2,150.7 L480.4,150.8 L480.7,150.9 L480.9,151.0 L481.2,151.0 L481.4,151.0 L481.7,151.0 L481.9,151.0 L482.2,151.0 L482.4,151.0 L482.7,151.0 L482.9,151.0 L483.2,151.0 L483.4,151.0 L483.7,151.0 L483.9,151.0 L484.2,151.0 L484.4,151.0 L484.7,151.0 L484.9,151.0 L485.2,151.0 L485.4,151.0 L485.7,151.0 L485.9,151.0 L486.2,150.9 L486.4,150.8 L486.7,150.7 L486.9,150.6 L487.2,150.4 L487.4,150.1 L487.7,149.7 L487.9,149.3 L488.2,148.8 L488.4,148.3 L488.7,147.9 L488.9,147.5 L489.2,147.2 L489.4,147.1 L489.7,147.2 L489.9,147.4 L490.2,147.7 L490.4,148.2 L490.7,148.6 L490.9,149.1 L491.2,149.6 L491.4,150.0 L491.7,150.3 L491.9,150.5 L492.2,150.7 L492.4,150.8 L492.7,150.9 L492.9,150.9 L493.2,151.0 L493.4,151.0 L493.7,151.0 L493.9,151.0 L494.2,151.0 L494.4,151.0 L494.7,151.0 L494.9,151.0 L495.2,151.0" stroke="#000" stroke-width="1.5" fill="none" stroke-dasharray="2.3,1.0" stroke-linejoin="round"/>
<path d="M385.7,151.0 L385.9,151.0 L386.2,151.0 L386.4,151.0 L386.7,151.0 L386.9,151.0 L387.2,151.0 L387.4,151.0 L387.7,151.0 L387.9,150.9 L388.2,150.8 L388.4,150.7 L388.7,150.5 L388.9,150.1 L389.2,149.5 L389.4,148.7 L389.7,147.5 L389.9,146.1 L390.2,144.4 L390.4,142.6 L390.7,140.9 L390.9,139.4 L391.2,138.3 L391.4,137.8 L391.7,138.0 L391.9,138.9 L392.2,140.2 L392.4,141.9 L392.7,143.7 L392.9,145.4 L393.2,147.0 L393.4,148.2 L393.7,149.2 L393.9,149.8 L394.2,150.3 L394.4,150.6 L394.7,150.7 L394.9,150.8 L395.2,150.9 L395.4,150.9 L395.7,150.9 L395.9,150.9 L396.2,150.9 L396.4,150.9 L396.7,150.9 L396.9,150.9 L397.2,150.9 L397.4,150.9 L397.7,150.8 L397.9,150.8 L398.2,150.8 L398.4,150.8 L398.7,150.8 L398.9,150.8 L399.2,150.8 L399.4,150.8 L399.7,150.8 L399.9,150.8 L400.2,150.7 L400.4,150.7 L400.7,150.7 L400.9,150.7 L401.2,150.7 L401.4,150.7 L401.7,150.7 L401.9,150.7 L402.2,150.6 L402.4,150.6 L402.7,150.6 L402.9,150.6 L403.2,150.6 L403.4,150.6 L403.7,150.6 L403.9,150.5 L404.2,150.5 L404.4,150.5 L404.7,150.5 L404.9,150.5 L405.2,150.5 L405.4,150.4 L405.7,150.4 L405.9,150.4 L406.2,150.4 L406.4,150.4 L406.7,150.4 L406.9,150.3 L407.2,150.3 L407.4,150.3 L407.7,150.3 L407.9,150.3 L408.2,150.3 L408.4,150.3 L408.7,150.2 L408.9,150.2 L409.2,150.2 L409.4,150.2 L409.7,150.2 L409.9,150.2 L410.2,150.2 L410.4,150.1 L410.7,150.1 L410.9,150.1 L411.2,150.1 L411.4,150.1 L411.7,150.1 L411.9,150.1 L412.2,150.1 L412.4,150.1 L412.7,150.1 L412.9,150.1 L413.2,150.0 L413.4,150.0 L413.7,150.0 L413.9,150.0 L414.2,150.0 L414.4,150.0 L414.7,150.0 L414.9,150.0 L415.2,150.0 L415.4,150.0 L415.7,150.0 L415.9,150.0 L416.2,150.0 L416.4,150.0 L416.7,150.0 L416.9,150.0 L417.2,150.1 L417.4,150.1 L417.7,150.1 L417.9,150.1 L418.2,150.1 L418.4,150.1 L418.7,150.1 L418.9,150.1 L419.2,150.1 L419.4,150.1 L419.7,150.2 L419.9,150.2 L420.2,150.2 L420.4,150.2 L420.7,150.2 L420.9,150.2 L421.2,150.2 L421.4,150.2 L421.7,150.3 L421.9,150.3 L422.2,150.3 L422.4,150.3 L422.7,150.3 L422.9,150.3 L423.2,150.4 L423.4,150.4 L423.7,150.4 L423.9,150.4 L424.2,150.4 L424.4,150.4 L424.7,150.5 L424.9,150.5 L425.2,150.5 L425.4,150.5 L425.7,150.5 L425.9,150.5 L426.2,150.5 L426.4,150.5 L426.7,150.5 L426.9,150.5 L427.2,150.4 L427.4,150.3 L427.7,150.1 L427.9,149.8 L428.2,149.3 L428.4,148.6 L428.7,147.7 L428.9,146.6 L429.2,145.0 L429.4,143.2 L429.7,140.9 L429.9,138.4 L430.2,135.6 L430.4,132.8 L430.7,129.9 L430.9,127.3 L431.2,125.0 L431.4,123.3 L431.7,122.3 L431.9,122.1 L432.2,122.6 L432.4,123.0 L432.7,121.6 L432.9,117.5 L433.2,111.7 L433.4,105.4 L433.7,99.0 L433.9,92.5 L434.2,86.0 L434.4,79.5 L434.7,73.0 L434.9,66.5 L435.2,60.0 L435.4,53.5 L435.7,46.9 L435.9,48.2 L436.2,54.8 L436.4,61.3 L436.7,67.8 L436.9,74.3 L437.2,80.8 L437.4,87.3 L437.7,93.8 L437.9,100.3 L438.2,106.8 L438.4,113.2 L438.7,119.7 L438.9,126.0 L439.2,131.5 L439.4,134.1 L439.7,132.7 L439.9,130.0 L440.2,126.7 L440.4,123.6 L440.7,121.3 L440.9,120.4 L441.2,121.1 L441.4,123.4 L441.7,126.8 L441.9,130.4 L442.2,133.5 L442.4,135.6 L442.7,136.2 L442.9,135.6 L443.2,134.1 L443.4,132.3 L443.7,130.9 L443.9,130.3 L444.2,130.8 L444.4,132.5 L444.7,135.0 L444.9,138.0 L445.2,141.0 L445.4,143.8 L445.7,146.2 L445.9,147.9 L446.2,149.2 L446.4,150.0 L446.7,150.5 L446.9,150.7 L447.2,150.8 L447.4,150.8 L447.7,150.8 L447.9,150.6 L448.2,150.4 L448.4,150.1 L448.7,149.7 L448.9,149.3 L449.2,148.9 L449.4,148.5 L449.7,148.2 L449.9,148.1 L450.2,148.1 L450.4,148.4 L450.7,148.7 L450.9,149.1 L451.2,149.6 L451.4,150.0 L451.7,150.3 L451.9,150.6 L452.2,150.7 L452.4,150.9 L452.7,150.9 L452.9,151.0 L453.2,151.0 L453.4,151.0 L453.7,151.0 L453.9,151.0 L454.2,151.0 L454.4,150.9 L454.7,150.8 L454.9,150.7 L455.2,150.5 L455.4,150.2 L455.7,149.7 L455.9,149.1 L456.2,148.1 L456.4,146.9 L456.7,145.4 L456.9,143.6 L457.2,141.6 L457.4,139.5 L457.7,137.4 L457.9,135.5 L458.2,134.0 L458.4,133.1 L458.7,132.7 L458.9,133.1 L459.2,134.0 L459.4,135.5 L459.7,137.4 L459.9,139.5 L460.2,141.6 L460.4,143.6 L460.7,145.4 L460.9,146.9 L461.2,148.1 L461.4,149.1 L461.7,149.7 L461.9,150.2 L462.2,150.5 L462.4,150.7 L462.7,150.8 L462.9,150.9 L463.2,151.0 L463.4,151.0 L463.7,151.0 L463.9,151.0 L464.2,151.0 L464.4,151.0 L464.7,151.0 L464.9,151.0 L465.2,151.0 L465.4,150.9 L465.7,150.9 L465.9,150.8 L466.2,150.7 L466.4,150.5 L466.7,150.4 L466.9,150.2 L467.2,149.9 L467.4,149.7 L467.7,149.4 L467.9,149.2 L468.2,149.1 L468.4,149.1 L468.7,149.1 L468.9,149.2 L469.2,149.4 L469.4,149.6 L469.7,149.8 L469.9,150.1 L470.2,150.3 L470.4,150.5 L470.7,150.6 L470.9,150.8 L471.2,150.8 L471.4,150.9 L471.7,150.9 L471.9,151.0 L472.2,151.0 L472.4,151.0 L472.7,151.0 L472.9,151.0 L473.2,151.0 L473.4,151.0 L473.7,151.0 L473.9,151.0 L474.2,151.0 L474.4,151.0 L474.7,151.0 L474.9,151.0 L475.2,150.9 L475.4,150.8 L475.7,150.7 L475.9,150.5 L476.2,150.2 L476.4,149.8 L476.7,149.2 L476.9,148.6 L477.2,148.0 L477.4,147.4 L477.7,147.0 L477.9,146.9 L478.2,146.9 L478.4,147.3 L478.7,147.8 L478.9,148.4 L479.2,149.0 L479.4,149.6 L479.7,150.0 L479.9,150.4 L480.2,150.6 L480.4,150.8 L480.7,150.9 L480.9,150.9 L481.2,151.0 L481.4,150.9 L481.7,150.9 L481.9,150.8 L482.2,150.8 L482.4,150.6 L482.7,150.5 L482.9,150.3 L483.2,150.1 L483.4,150.0 L483.7,149.8 L483.9,149.8 L484.2,149.8 L484.4,149.9 L484.7,150.0 L484.9,150.2 L485.2,150.4 L485.4,150.6 L485.7,150.7 L485.9,150.8 L486.2,150.8 L486.4,150.7 L486.7,150.6 L486.9,150.4 L487.2,150.1 L487.4,149.8 L487.7,149.3 L487.9,148.7 L488.2,148.0 L488.4,147.3 L488.7,146.7 L488.9,146.2 L489.2,145.8 L489.4,145.6 L489.7,145.7 L489.9,146.0 L490.2,146.5 L490.4,147.1 L490.7,147.8 L490.9,148.4 L491.2,149.0 L491.4,149.6 L491.7,150.0 L491.9,150.3 L492.2,150.6 L492.4,150.7 L492.7,150.8 L492.9,150.9 L493.2,151.0 L493.4,151.0 L493.7,151.0 L493.9,151.0 L494.2,151.0 L494.4,151.0 L494.7,151.0 L494.9,151.0 L495.2,151.0" stroke="#050505" stroke-width="1.3" fill="none" stroke-linejoin="round"/>
<line x1="443.00" y1="50.60" x2="453.60" y2="50.60" stroke="#111" stroke-width="1.2" stroke-dasharray="2.4,1.0"/>
<text x="456.20" y="52.60" font-size="6.9" fill="#111" stroke="#111" stroke-width="0.28">Cells</text>
<line x1="443.00" y1="64.20" x2="455.30" y2="64.20" stroke="#111" stroke-width="1.3" />
<text x="457.90" y="66.70" font-size="6.9" fill="#111" stroke="#111" stroke-width="0.28">Vesicles</text>
<line x1="58.90" y1="185.90" x2="58.90" y2="321.20" stroke="#080808" stroke-width="1.3" />
<line x1="56.30" y1="320.70" x2="60.40" y2="320.70" stroke="#080808" stroke-width="1.1" />
<text x="52.60" y="323.29" font-size="7.2" text-anchor="end" fill="#111" stroke="#111" stroke-width="0.28">0</text>
<line x1="57.47" y1="311.10" x2="59.90" y2="311.10" stroke="#111" stroke-width="0.8" />
<line x1="56.30" y1="301.50" x2="60.40" y2="301.50" stroke="#080808" stroke-width="1.1" />
<text x="52.60" y="304.09" font-size="7.2" text-anchor="end" fill="#111" stroke="#111" stroke-width="0.28">2</text>
<line x1="57.47" y1="291.90" x2="59.90" y2="291.90" stroke="#111" stroke-width="0.8" />
<line x1="56.30" y1="282.30" x2="60.40" y2="282.30" stroke="#080808" stroke-width="1.1" />
<text x="52.60" y="284.89" font-size="7.2" text-anchor="end" fill="#111" stroke="#111" stroke-width="0.28">4</text>
<line x1="57.47" y1="272.70" x2="59.90" y2="272.70" stroke="#111" stroke-width="0.8" />
<line x1="56.30" y1="263.10" x2="60.40" y2="263.10" stroke="#080808" stroke-width="1.1" />
<text x="52.60" y="265.69" font-size="7.2" text-anchor="end" fill="#111" stroke="#111" stroke-width="0.28">6</text>
<line x1="57.47" y1="253.50" x2="59.90" y2="253.50" stroke="#111" stroke-width="0.8" />
<line x1="56.30" y1="243.90" x2="60.40" y2="243.90" stroke="#080808" stroke-width="1.1" />
<text x="52.60" y="246.49" font-size="7.2" text-anchor="end" fill="#111" stroke="#111" stroke-width="0.28">8</text>
<line x1="57.47" y1="234.30" x2="59.90" y2="234.30" stroke="#111" stroke-width="0.8" />
<line x1="56.30" y1="224.70" x2="60.40" y2="224.70" stroke="#080808" stroke-width="1.1" />
<text x="52.60" y="227.29" font-size="7.2" text-anchor="end" fill="#111" stroke="#111" stroke-width="0.28">10</text>
<line x1="57.47" y1="215.10" x2="59.90" y2="215.10" stroke="#111" stroke-width="0.8" />
<line x1="56.30" y1="205.50" x2="60.40" y2="205.50" stroke="#080808" stroke-width="1.1" />
<text x="52.60" y="208.09" font-size="7.2" text-anchor="end" fill="#111" stroke="#111" stroke-width="0.28">12</text>
<line x1="57.47" y1="195.90" x2="59.90" y2="195.90" stroke="#111" stroke-width="0.8" />
<line x1="56.30" y1="186.30" x2="60.40" y2="186.30" stroke="#080808" stroke-width="1.1" />
<text x="52.60" y="188.89" font-size="7.2" text-anchor="end" fill="#111" stroke="#111" stroke-width="0.28">14</text>
<line x1="58.90" y1="320.70" x2="168.60" y2="320.70" stroke="#080808" stroke-width="1.3" />
<line x1="80.70" y1="320.70" x2="80.70" y2="323.30" stroke="#111" stroke-width="1.0" />
<rect x="61.90" y="298.14" width="7.80" height="22.56" fill="#0a0a0a" />
<rect x="69.70" y="191.48" width="7.70" height="129.22" fill="#858585" />
<text x="0" y="0" font-size="6.9" text-anchor="end" fill="#111" transform="translate(71.30 325.40) rotate(-90) scale(1 0.93)" stroke="#111" stroke-width="0.28">HL-60</text>
<line x1="102.50" y1="320.70" x2="102.50" y2="323.30" stroke="#111" stroke-width="1.0" />
<rect x="83.70" y="303.71" width="7.80" height="16.99" fill="#0a0a0a" />
<rect x="91.50" y="273.47" width="7.70" height="47.23" fill="#858585" />
<text x="0" y="0" font-size="6.9" text-anchor="end" fill="#111" transform="translate(93.10 325.40) rotate(-90) scale(1 0.93)" stroke="#111" stroke-width="0.28">Molm-14</text>
<line x1="124.30" y1="320.70" x2="124.30" y2="323.30" stroke="#111" stroke-width="1.0" />
<rect x="105.50" y="300.06" width="7.80" height="20.64" fill="#0a0a0a" />
<rect x="113.30" y="240.06" width="7.70" height="80.64" fill="#858585" />
<text x="0" y="0" font-size="6.9" text-anchor="end" fill="#111" transform="translate(114.90 325.40) rotate(-90) scale(1 0.93)" stroke="#111" stroke-width="0.28">U937</text>
<line x1="146.10" y1="320.70" x2="146.10" y2="323.30" stroke="#111" stroke-width="1.0" />
<rect x="127.30" y="305.63" width="7.80" height="15.07" fill="#0a0a0a" />
<rect x="135.10" y="305.15" width="7.70" height="15.55" fill="#858585" />
<text x="0" y="0" font-size="6.9" text-anchor="end" fill="#111" transform="translate(136.70 325.40) rotate(-90) scale(1 0.93)" stroke="#111" stroke-width="0.28">AML035</text>
<line x1="167.90" y1="320.70" x2="167.90" y2="323.30" stroke="#111" stroke-width="1.0" />
<rect x="149.10" y="300.06" width="7.80" height="20.64" fill="#0a0a0a" />
<rect x="156.90" y="305.63" width="7.70" height="15.07" fill="#858585" />
<text x="0" y="0" font-size="6.9" text-anchor="end" fill="#111" transform="translate(158.50 325.40) rotate(-90) scale(1 0.93)" stroke="#111" stroke-width="0.28">AML154</text>
<line x1="58.90" y1="320.70" x2="58.90" y2="323.30" stroke="#111" stroke-width="1.0" />
<rect x="121.20" y="195.00" width="3.90" height="3.90" fill="#0a0a0a" />
<text x="126.60" y="200.00" font-size="7.2" fill="#111" stroke="#111" stroke-width="0.28">Small RNA</text>
<rect x="121.20" y="215.20" width="3.90" height="3.90" fill="#8a8a8a" />
<text x="126.60" y="220.20" font-size="7.2" fill="#111" stroke="#111" stroke-width="0.28">miRNA</text>
<text x="0" y="0" font-size="9.25" text-anchor="middle" fill="#111" transform="translate(38.60 254.00) rotate(-90) scale(1 0.9)" stroke="#111" stroke-width="0.28">Fold change, vesicles/cells</text>
<line x1="217.90" y1="185.62" x2="217.90" y2="321.30" stroke="#080808" stroke-width="1.3" />
<line x1="215.30" y1="320.80" x2="219.40" y2="320.80" stroke="#080808" stroke-width="1.1" />
<text x="211.00" y="323.54" font-size="7.6" text-anchor="end" fill="#111" stroke="#111" stroke-width="0.28">0</text>
<line x1="216.47" y1="313.31" x2="218.90" y2="313.31" stroke="#111" stroke-width="0.8" />
<line x1="215.30" y1="305.82" x2="219.40" y2="305.82" stroke="#080808" stroke-width="1.1" />
<text x="211.00" y="308.56" font-size="7.6" text-anchor="end" fill="#111" stroke="#111" stroke-width="0.28">5</text>
<line x1="216.47" y1="298.34" x2="218.90" y2="298.34" stroke="#111" stroke-width="0.8" />
<line x1="215.30" y1="290.85" x2="219.40" y2="290.85" stroke="#080808" stroke-width="1.1" />
<text x="211.00" y="293.59" font-size="7.6" text-anchor="end" fill="#111" stroke="#111" stroke-width="0.28">10</text>
<line x1="216.47" y1="283.36" x2="218.90" y2="283.36" stroke="#111" stroke-width="0.8" />
<line x1="215.30" y1="275.88" x2="219.40" y2="275.88" stroke="#080808" stroke-width="1.1" />
<text x="211.00" y="278.61" font-size="7.6" text-anchor="end" fill="#111" stroke="#111" stroke-width="0.28">15</text>
<line x1="216.47" y1="268.39" x2="218.90" y2="268.39" stroke="#111" stroke-width="0.8" />
<line x1="215.30" y1="260.90" x2="219.40" y2="260.90" stroke="#080808" stroke-width="1.1" />
<text x="211.00" y="263.64" font-size="7.6" text-anchor="end" fill="#111" stroke="#111" stroke-width="0.28">20</text>
<line x1="216.47" y1="253.41" x2="218.90" y2="253.41" stroke="#111" stroke-width="0.8" />
<line x1="215.30" y1="245.93" x2="219.40" y2="245.93" stroke="#080808" stroke-width="1.1" />
<text x="211.00" y="248.66" font-size="7.6" text-anchor="end" fill="#111" stroke="#111" stroke-width="0.28">25</text>
<line x1="216.47" y1="238.44" x2="218.90" y2="238.44" stroke="#111" stroke-width="0.8" />
<line x1="215.30" y1="230.95" x2="219.40" y2="230.95" stroke="#080808" stroke-width="1.1" />
<text x="211.00" y="233.69" font-size="7.6" text-anchor="end" fill="#111" stroke="#111" stroke-width="0.28">30</text>
<line x1="216.47" y1="223.46" x2="218.90" y2="223.46" stroke="#111" stroke-width="0.8" />
<line x1="215.30" y1="215.98" x2="219.40" y2="215.98" stroke="#080808" stroke-width="1.1" />
<text x="211.00" y="218.71" font-size="7.6" text-anchor="end" fill="#111" stroke="#111" stroke-width="0.28">35</text>
<line x1="216.47" y1="208.49" x2="218.90" y2="208.49" stroke="#111" stroke-width="0.8" />
<line x1="215.30" y1="201.00" x2="219.40" y2="201.00" stroke="#080808" stroke-width="1.1" />
<text x="211.00" y="203.74" font-size="7.6" text-anchor="end" fill="#111" stroke="#111" stroke-width="0.28">40</text>
<line x1="216.47" y1="193.51" x2="218.90" y2="193.51" stroke="#111" stroke-width="0.8" />
<line x1="215.30" y1="186.03" x2="219.40" y2="186.03" stroke="#080808" stroke-width="1.1" />
<text x="211.00" y="188.76" font-size="7.6" text-anchor="end" fill="#111" stroke="#111" stroke-width="0.28">45</text>
<line x1="217.90" y1="320.80" x2="325.60" y2="320.80" stroke="#080808" stroke-width="1.3" />
<line x1="235.80" y1="320.80" x2="235.80" y2="323.40" stroke="#111" stroke-width="1.0" />
<rect x="219.90" y="312.71" width="7.10" height="8.09" fill="#1f1f1f" />
<rect x="227.00" y="295.64" width="7.10" height="25.16" fill="#8a8a8a" />
<text x="0" y="0" font-size="7.5" text-anchor="end" fill="#111" transform="translate(229.75 326.00) rotate(-90) scale(1 0.95)" stroke="#111" stroke-width="0.28">Let-7a</text>
<line x1="253.70" y1="320.80" x2="253.70" y2="323.40" stroke="#111" stroke-width="1.0" />
<rect x="237.80" y="317.51" width="7.10" height="3.29" fill="#1f1f1f" />
<rect x="244.90" y="314.51" width="7.10" height="6.29" fill="#8a8a8a" />
<text x="0" y="0" font-size="7.5" text-anchor="end" fill="#111" transform="translate(247.65 326.00) rotate(-90) scale(1 0.95)" stroke="#111" stroke-width="0.28">miR-9</text>
<line x1="271.60" y1="320.80" x2="271.60" y2="323.40" stroke="#111" stroke-width="1.0" />
<rect x="255.70" y="206.99" width="7.10" height="113.81" fill="#1f1f1f" />
<rect x="262.80" y="304.93" width="7.10" height="15.87" fill="#8a8a8a" />
<text x="0" y="0" font-size="7.5" text-anchor="end" fill="#111" transform="translate(265.55 326.00) rotate(-90) scale(1 0.95)" stroke="#111" stroke-width="0.28">miR-150</text>
<line x1="289.50" y1="320.80" x2="289.50" y2="323.40" stroke="#111" stroke-width="1.0" />
<rect x="273.60" y="312.71" width="7.10" height="8.09" fill="#1f1f1f" />
<rect x="280.70" y="315.11" width="7.10" height="5.69" fill="#8a8a8a" />
<text x="0" y="0" font-size="7.5" text-anchor="end" fill="#111" transform="translate(283.45 326.00) rotate(-90) scale(1 0.95)" stroke="#111" stroke-width="0.28">miR-155</text>
<line x1="307.40" y1="320.80" x2="307.40" y2="323.40" stroke="#111" stroke-width="1.0" />
<rect x="291.50" y="311.22" width="7.10" height="9.58" fill="#1f1f1f" />
<rect x="298.60" y="311.22" width="7.10" height="9.58" fill="#8a8a8a" />
<text x="0" y="0" font-size="7.5" text-anchor="end" fill="#111" transform="translate(301.35 326.00) rotate(-90) scale(1 0.95)" stroke="#111" stroke-width="0.28">miR-191</text>
<line x1="325.30" y1="320.80" x2="325.30" y2="323.40" stroke="#111" stroke-width="1.0" />
<rect x="309.40" y="290.25" width="7.10" height="30.55" fill="#1f1f1f" />
<rect x="316.50" y="311.52" width="7.10" height="9.28" fill="#8a8a8a" />
<text x="0" y="0" font-size="7.5" text-anchor="end" fill="#111" transform="translate(319.25 326.00) rotate(-90) scale(1 0.95)" stroke="#111" stroke-width="0.28">miR-223</text>
<line x1="217.90" y1="320.80" x2="217.90" y2="323.40" stroke="#111" stroke-width="1.0" />
<rect x="232.00" y="193.00" width="3.80" height="3.80" fill="#1a1a1a" />
<text x="237.20" y="197.90" font-size="7.4" fill="#111" stroke="#111" stroke-width="0.28">MOLM-14</text>
<rect x="279.40" y="193.40" width="3.00" height="3.00" fill="#999" />
<text x="283.80" y="197.90" font-size="7.45" fill="#111" stroke="#111" stroke-width="0.28">AML 154</text>
<text x="0" y="0" font-size="9.2" text-anchor="middle" fill="#111" transform="translate(194.30 250.70) rotate(-90) scale(1 0.93)" stroke="#111" stroke-width="0.28">Fold change in incorporation</text>
<clipPath id="dclip"><rect x="377" y="191" width="123" height="128.6"/></clipPath>
<g clip-path="url(#dclip)">
<line x1="377.00" y1="301.60" x2="484.40" y2="191.40" stroke="#b2b2b2" stroke-width="1.05" />
<line x1="393.20" y1="319.50" x2="499.20" y2="206.60" stroke="#b2b2b2" stroke-width="1.05" />
<line x1="377.00" y1="319.80" x2="499.00" y2="192.00" stroke="#111" stroke-width="1.35" />
</g>
<line x1="377.00" y1="191.50" x2="377.00" y2="320.40" stroke="#111" stroke-width="1.4" />
<line x1="376.40" y1="319.80" x2="499.50" y2="319.80" stroke="#111" stroke-width="1.4" />
<line x1="374.20" y1="319.80" x2="377.00" y2="319.80" stroke="#111" stroke-width="1.0" />
<text x="372.40" y="322.50" font-size="7.4" text-anchor="end" fill="#111" stroke="#111" stroke-width="0.28">0.0001</text>
<line x1="377.00" y1="319.80" x2="377.00" y2="322.60" stroke="#111" stroke-width="1.0" />
<text x="377.00" y="331.20" font-size="7.05" text-anchor="middle" fill="#111" stroke="#111" stroke-width="0.28">0.0001</text>
<line x1="375.30" y1="312.11" x2="377.00" y2="312.11" stroke="#111" stroke-width="0.8" />
<line x1="384.35" y1="319.80" x2="384.35" y2="321.50" stroke="#111" stroke-width="0.8" />
<line x1="375.30" y1="307.60" x2="377.00" y2="307.60" stroke="#111" stroke-width="0.8" />
<line x1="388.64" y1="319.80" x2="388.64" y2="321.50" stroke="#111" stroke-width="0.8" />
<line x1="375.30" y1="304.41" x2="377.00" y2="304.41" stroke="#111" stroke-width="0.8" />
<line x1="391.69" y1="319.80" x2="391.69" y2="321.50" stroke="#111" stroke-width="0.8" />
<line x1="375.30" y1="301.93" x2="377.00" y2="301.93" stroke="#111" stroke-width="0.8" />
<line x1="394.05" y1="319.80" x2="394.05" y2="321.50" stroke="#111" stroke-width="0.8" />
<line x1="375.30" y1="299.91" x2="377.00" y2="299.91" stroke="#111" stroke-width="0.8" />
<line x1="395.99" y1="319.80" x2="395.99" y2="321.50" stroke="#111" stroke-width="0.8" />
<line x1="375.30" y1="298.20" x2="377.00" y2="298.20" stroke="#111" stroke-width="0.8" />
<line x1="397.62" y1="319.80" x2="397.62" y2="321.50" stroke="#111" stroke-width="0.8" />
<line x1="375.30" y1="296.72" x2="377.00" y2="296.72" stroke="#111" stroke-width="0.8" />
<line x1="399.04" y1="319.80" x2="399.04" y2="321.50" stroke="#111" stroke-width="0.8" />
<line x1="375.30" y1="295.41" x2="377.00" y2="295.41" stroke="#111" stroke-width="0.8" />
<line x1="400.28" y1="319.80" x2="400.28" y2="321.50" stroke="#111" stroke-width="0.8" />
<line x1="374.20" y1="294.24" x2="377.00" y2="294.24" stroke="#111" stroke-width="1.0" />
<text x="372.40" y="296.94" font-size="7.4" text-anchor="end" fill="#111" stroke="#111" stroke-width="0.28">0.001</text>
<line x1="401.40" y1="319.80" x2="401.40" y2="322.60" stroke="#111" stroke-width="1.0" />
<text x="401.40" y="331.20" font-size="7.05" text-anchor="middle" fill="#111" stroke="#111" stroke-width="0.28">0.001</text>
<line x1="375.30" y1="286.55" x2="377.00" y2="286.55" stroke="#111" stroke-width="0.8" />
<line x1="408.75" y1="319.80" x2="408.75" y2="321.50" stroke="#111" stroke-width="0.8" />
<line x1="375.30" y1="282.04" x2="377.00" y2="282.04" stroke="#111" stroke-width="0.8" />
<line x1="413.04" y1="319.80" x2="413.04" y2="321.50" stroke="#111" stroke-width="0.8" />
<line x1="375.30" y1="278.85" x2="377.00" y2="278.85" stroke="#111" stroke-width="0.8" />
<line x1="416.09" y1="319.80" x2="416.09" y2="321.50" stroke="#111" stroke-width="0.8" />
<line x1="375.30" y1="276.37" x2="377.00" y2="276.37" stroke="#111" stroke-width="0.8" />
<line x1="418.45" y1="319.80" x2="418.45" y2="321.50" stroke="#111" stroke-width="0.8" />
<line x1="375.30" y1="274.35" x2="377.00" y2="274.35" stroke="#111" stroke-width="0.8" />
<line x1="420.39" y1="319.80" x2="420.39" y2="321.50" stroke="#111" stroke-width="0.8" />
<line x1="375.30" y1="272.64" x2="377.00" y2="272.64" stroke="#111" stroke-width="0.8" />
<line x1="422.02" y1="319.80" x2="422.02" y2="321.50" stroke="#111" stroke-width="0.8" />
<line x1="375.30" y1="271.16" x2="377.00" y2="271.16" stroke="#111" stroke-width="0.8" />
<line x1="423.44" y1="319.80" x2="423.44" y2="321.50" stroke="#111" stroke-width="0.8" />
<line x1="375.30" y1="269.85" x2="377.00" y2="269.85" stroke="#111" stroke-width="0.8" />
<line x1="424.68" y1="319.80" x2="424.68" y2="321.50" stroke="#111" stroke-width="0.8" />
<line x1="374.20" y1="268.68" x2="377.00" y2="268.68" stroke="#111" stroke-width="1.0" />
<text x="372.40" y="271.38" font-size="7.4" text-anchor="end" fill="#111" stroke="#111" stroke-width="0.28">0.01</text>
<line x1="425.80" y1="319.80" x2="425.80" y2="322.60" stroke="#111" stroke-width="1.0" />
<text x="425.80" y="331.20" font-size="7.05" text-anchor="middle" fill="#111" stroke="#111" stroke-width="0.28">0.01</text>
<line x1="375.30" y1="260.99" x2="377.00" y2="260.99" stroke="#111" stroke-width="0.8" />
<line x1="433.15" y1="319.80" x2="433.15" y2="321.50" stroke="#111" stroke-width="0.8" />
<line x1="375.30" y1="256.48" x2="377.00" y2="256.48" stroke="#111" stroke-width="0.8" />
<line x1="437.44" y1="319.80" x2="437.44" y2="321.50" stroke="#111" stroke-width="0.8" />
<line x1="375.30" y1="253.29" x2="377.00" y2="253.29" stroke="#111" stroke-width="0.8" />
<line x1="440.49" y1="319.80" x2="440.49" y2="321.50" stroke="#111" stroke-width="0.8" />
<line x1="375.30" y1="250.81" x2="377.00" y2="250.81" stroke="#111" stroke-width="0.8" />
<line x1="442.85" y1="319.80" x2="442.85" y2="321.50" stroke="#111" stroke-width="0.8" />
<line x1="375.30" y1="248.79" x2="377.00" y2="248.79" stroke="#111" stroke-width="0.8" />
<line x1="444.79" y1="319.80" x2="444.79" y2="321.50" stroke="#111" stroke-width="0.8" />
<line x1="375.30" y1="247.08" x2="377.00" y2="247.08" stroke="#111" stroke-width="0.8" />
<line x1="446.42" y1="319.80" x2="446.42" y2="321.50" stroke="#111" stroke-width="0.8" />
<line x1="375.30" y1="245.60" x2="377.00" y2="245.60" stroke="#111" stroke-width="0.8" />
<line x1="447.84" y1="319.80" x2="447.84" y2="321.50" stroke="#111" stroke-width="0.8" />
<line x1="375.30" y1="244.29" x2="377.00" y2="244.29" stroke="#111" stroke-width="0.8" />
<line x1="449.08" y1="319.80" x2="449.08" y2="321.50" stroke="#111" stroke-width="0.8" />
<line x1="374.20" y1="243.12" x2="377.00" y2="243.12" stroke="#111" stroke-width="1.0" />
<text x="372.40" y="245.82" font-size="7.4" text-anchor="end" fill="#111" stroke="#111" stroke-width="0.28">0.1</text>
<line x1="450.20" y1="319.80" x2="450.20" y2="322.60" stroke="#111" stroke-width="1.0" />
<text x="450.20" y="331.20" font-size="7.05" text-anchor="middle" fill="#111" stroke="#111" stroke-width="0.28">0.1</text>
<line x1="375.30" y1="235.43" x2="377.00" y2="235.43" stroke="#111" stroke-width="0.8" />
<line x1="457.55" y1="319.80" x2="457.55" y2="321.50" stroke="#111" stroke-width="0.8" />
<line x1="375.30" y1="230.92" x2="377.00" y2="230.92" stroke="#111" stroke-width="0.8" />
<line x1="461.84" y1="319.80" x2="461.84" y2="321.50" stroke="#111" stroke-width="0.8" />
<line x1="375.30" y1="227.73" x2="377.00" y2="227.73" stroke="#111" stroke-width="0.8" />
<line x1="464.89" y1="319.80" x2="464.89" y2="321.50" stroke="#111" stroke-width="0.8" />
<line x1="375.30" y1="225.25" x2="377.00" y2="225.25" stroke="#111" stroke-width="0.8" />
<line x1="467.25" y1="319.80" x2="467.25" y2="321.50" stroke="#111" stroke-width="0.8" />
<line x1="375.30" y1="223.23" x2="377.00" y2="223.23" stroke="#111" stroke-width="0.8" />
<line x1="469.19" y1="319.80" x2="469.19" y2="321.50" stroke="#111" stroke-width="0.8" />
<line x1="375.30" y1="221.52" x2="377.00" y2="221.52" stroke="#111" stroke-width="0.8" />
<line x1="470.82" y1="319.80" x2="470.82" y2="321.50" stroke="#111" stroke-width="0.8" />
<line x1="375.30" y1="220.04" x2="377.00" y2="220.04" stroke="#111" stroke-width="0.8" />
<line x1="472.24" y1="319.80" x2="472.24" y2="321.50" stroke="#111" stroke-width="0.8" />
<line x1="375.30" y1="218.73" x2="377.00" y2="218.73" stroke="#111" stroke-width="0.8" />
<line x1="473.48" y1="319.80" x2="473.48" y2="321.50" stroke="#111" stroke-width="0.8" />
<line x1="374.20" y1="217.56" x2="377.00" y2="217.56" stroke="#111" stroke-width="1.0" />
<text x="372.40" y="220.26" font-size="7.4" text-anchor="end" fill="#111" stroke="#111" stroke-width="0.28">1</text>
<line x1="474.60" y1="319.80" x2="474.60" y2="322.60" stroke="#111" stroke-width="1.0" />
<text x="474.60" y="331.20" font-size="7.05" text-anchor="middle" fill="#111" stroke="#111" stroke-width="0.28">1</text>
<line x1="375.30" y1="209.87" x2="377.00" y2="209.87" stroke="#111" stroke-width="0.8" />
<line x1="481.95" y1="319.80" x2="481.95" y2="321.50" stroke="#111" stroke-width="0.8" />
<line x1="375.30" y1="205.36" x2="377.00" y2="205.36" stroke="#111" stroke-width="0.8" />
<line x1="486.24" y1="319.80" x2="486.24" y2="321.50" stroke="#111" stroke-width="0.8" />
<line x1="375.30" y1="202.17" x2="377.00" y2="202.17" stroke="#111" stroke-width="0.8" />
<line x1="489.29" y1="319.80" x2="489.29" y2="321.50" stroke="#111" stroke-width="0.8" />
<line x1="375.30" y1="199.69" x2="377.00" y2="199.69" stroke="#111" stroke-width="0.8" />
<line x1="491.65" y1="319.80" x2="491.65" y2="321.50" stroke="#111" stroke-width="0.8" />
<line x1="375.30" y1="197.67" x2="377.00" y2="197.67" stroke="#111" stroke-width="0.8" />
<line x1="493.59" y1="319.80" x2="493.59" y2="321.50" stroke="#111" stroke-width="0.8" />
<line x1="375.30" y1="195.96" x2="377.00" y2="195.96" stroke="#111" stroke-width="0.8" />
<line x1="495.22" y1="319.80" x2="495.22" y2="321.50" stroke="#111" stroke-width="0.8" />
<line x1="375.30" y1="194.48" x2="377.00" y2="194.48" stroke="#111" stroke-width="0.8" />
<line x1="496.64" y1="319.80" x2="496.64" y2="321.50" stroke="#111" stroke-width="0.8" />
<line x1="375.30" y1="193.17" x2="377.00" y2="193.17" stroke="#111" stroke-width="0.8" />
<line x1="497.88" y1="319.80" x2="497.88" y2="321.50" stroke="#111" stroke-width="0.8" />
<line x1="374.20" y1="192.00" x2="377.00" y2="192.00" stroke="#111" stroke-width="1.0" />
<text x="372.40" y="194.70" font-size="7.4" text-anchor="end" fill="#111" stroke="#111" stroke-width="0.28">10</text>
<line x1="499.00" y1="319.80" x2="499.00" y2="322.60" stroke="#111" stroke-width="1.0" />
<text x="499.00" y="331.20" font-size="7.05" text-anchor="middle" fill="#111" stroke="#111" stroke-width="0.28">10</text>
<text x="433.80" y="344.10" font-size="7.95" text-anchor="middle" fill="#111" stroke="#111" stroke-width="0.28">2^[-Δ<tspan font-style="italic">C</tspan><tspan font-size="7" dy="2.4">t</tspan><tspan dy="-2.4">(Cells)]</tspan></text>
<text x="0" y="0" font-size="8.7" text-anchor="middle" fill="#111" transform="translate(350.30 248.50) rotate(-90) scale(1 0.86)" stroke="#111" stroke-width="0.28">2^[-ΔCt(Vesicles)]</text>
<g fill="#1c1c1c">
<circle cx="386.4" cy="243.8" r="1.45"/>
<circle cx="398.7" cy="236.1" r="1.45"/>
<circle cx="413.1" cy="223.1" r="1.45"/>
<circle cx="436.0" cy="215.0" r="1.45"/>
<circle cx="430.6" cy="223.1" r="1.45"/>
<circle cx="433.3" cy="226.7" r="1.45"/>
<circle cx="439.3" cy="224.3" r="1.45"/>
<circle cx="402.3" cy="240.5" r="1.45"/>
<circle cx="407.0" cy="241.5" r="1.45"/>
<circle cx="399.0" cy="248.3" r="1.45"/>
<circle cx="391.3" cy="251.0" r="1.45"/>
<circle cx="389.5" cy="253.6" r="1.45"/>
<circle cx="410.1" cy="251.2" r="1.45"/>
<circle cx="423.8" cy="232.4" r="1.45"/>
<circle cx="428.8" cy="233.5" r="1.45"/>
<circle cx="418.5" cy="235.9" r="1.45"/>
<circle cx="422.8" cy="236.1" r="1.45"/>
<circle cx="416.2" cy="237.8" r="1.45"/>
<circle cx="417.8" cy="240.2" r="1.45"/>
<circle cx="428.1" cy="238.6" r="1.45"/>
<circle cx="436.0" cy="234.5" r="1.45"/>
<circle cx="437.3" cy="236.8" r="1.45"/>
<circle cx="419.8" cy="242.9" r="1.45"/>
<circle cx="423.2" cy="243.5" r="1.45"/>
<circle cx="426.5" cy="242.2" r="1.45"/>
<circle cx="429.9" cy="243.1" r="1.45"/>
<circle cx="418.5" cy="247.6" r="1.45"/>
<circle cx="421.8" cy="248.3" r="1.45"/>
<circle cx="420.5" cy="250.3" r="1.45"/>
<circle cx="428.8" cy="247.6" r="1.45"/>
<circle cx="425.5" cy="251.6" r="1.45"/>
<circle cx="436.2" cy="246.9" r="1.45"/>
<circle cx="436.6" cy="249.6" r="1.45"/>
<circle cx="459.6" cy="194.7" r="1.45"/>
<circle cx="451.3" cy="211.6" r="1.45"/>
<circle cx="446.2" cy="217.7" r="1.45"/>
<circle cx="459.3" cy="217.7" r="1.45"/>
<circle cx="476.0" cy="211.9" r="1.45"/>
<circle cx="476.0" cy="214.6" r="1.45"/>
<circle cx="474.1" cy="217.0" r="1.45"/>
<circle cx="454.0" cy="224.4" r="1.45"/>
<circle cx="462.0" cy="222.0" r="1.45"/>
<circle cx="447.2" cy="226.5" r="1.45"/>
<circle cx="448.8" cy="230.5" r="1.45"/>
<circle cx="454.6" cy="228.1" r="1.45"/>
<circle cx="457.9" cy="227.4" r="1.45"/>
<circle cx="468.1" cy="226.7" r="1.45"/>
<circle cx="440.5" cy="237.5" r="1.45"/>
<circle cx="443.5" cy="242.2" r="1.45"/>
<circle cx="455.6" cy="242.2" r="1.45"/>
<circle cx="448.2" cy="252.0" r="1.45"/>
<circle cx="434.7" cy="254.3" r="1.45"/>
<circle cx="431.0" cy="254.0" r="1.45"/>
<circle cx="383.5" cy="282.3" r="1.45"/>
<circle cx="384.1" cy="284.7" r="1.45"/>
<circle cx="386.2" cy="283.0" r="1.45"/>
<circle cx="388.2" cy="282.3" r="1.45"/>
<circle cx="390.2" cy="284.3" r="1.45"/>
<circle cx="392.2" cy="285.3" r="1.45"/>
<circle cx="390.2" cy="282.3" r="1.45"/>
<circle cx="394.2" cy="283.0" r="1.45"/>
<circle cx="395.6" cy="285.3" r="1.45"/>
<circle cx="396.2" cy="282.3" r="1.45"/>
<circle cx="400.3" cy="281.2" r="1.45"/>
<circle cx="403.0" cy="282.7" r="1.45"/>
<circle cx="406.1" cy="283.4" r="1.45"/>
<circle cx="411.0" cy="282.7" r="1.45"/>
<circle cx="418.7" cy="277.3" r="1.45"/>
<circle cx="383.5" cy="274.2" r="1.45"/>
<circle cx="384.1" cy="276.9" r="1.45"/>
<circle cx="386.8" cy="278.3" r="1.45"/>
<circle cx="391.5" cy="278.9" r="1.45"/>
<circle cx="388.8" cy="274.2" r="1.45"/>
<circle cx="392.2" cy="275.6" r="1.45"/>
<circle cx="396.9" cy="276.2" r="1.45"/>
<circle cx="398.9" cy="276.2" r="1.45"/>
<circle cx="405.7" cy="274.9" r="1.45"/>
<circle cx="407.7" cy="272.2" r="1.45"/>
<circle cx="412.4" cy="274.9" r="1.45"/>
<circle cx="384.8" cy="266.8" r="1.45"/>
<circle cx="386.8" cy="266.8" r="1.45"/>
<circle cx="391.5" cy="264.1" r="1.45"/>
<circle cx="392.9" cy="270.2" r="1.45"/>
<circle cx="394.9" cy="271.5" r="1.45"/>
<circle cx="396.2" cy="268.2" r="1.45"/>
<circle cx="398.9" cy="271.5" r="1.45"/>
<circle cx="401.0" cy="267.5" r="1.45"/>
<circle cx="402.3" cy="270.2" r="1.45"/>
<circle cx="403.6" cy="268.2" r="1.45"/>
<circle cx="400.3" cy="271.5" r="1.45"/>
<circle cx="409.0" cy="271.5" r="1.45"/>
<circle cx="417.1" cy="268.8" r="1.45"/>
<circle cx="411.7" cy="266.2" r="1.45"/>
<circle cx="398.9" cy="262.8" r="1.45"/>
<circle cx="402.3" cy="263.5" r="1.45"/>
<circle cx="404.3" cy="261.4" r="1.45"/>
<circle cx="407.7" cy="262.1" r="1.45"/>
<circle cx="411.7" cy="262.8" r="1.45"/>
<circle cx="414.4" cy="261.4" r="1.45"/>
<circle cx="417.8" cy="261.4" r="1.45"/>
<circle cx="423.8" cy="262.1" r="1.45"/>
<circle cx="421.8" cy="259.4" r="1.45"/>
<circle cx="416.4" cy="259.4" r="1.45"/>
<circle cx="410.4" cy="258.1" r="1.45"/>
<circle cx="407.0" cy="256.7" r="1.45"/>
<circle cx="403.6" cy="256.1" r="1.45"/>
<circle cx="402.3" cy="254.0" r="1.45"/>
<circle cx="392.2" cy="256.7" r="1.45"/>
<circle cx="390.2" cy="253.4" r="1.45"/>
<circle cx="391.5" cy="250.0" r="1.45"/>
<circle cx="398.9" cy="250.7" r="1.45"/>
<circle cx="410.4" cy="251.3" r="1.45"/>
<circle cx="413.1" cy="254.7" r="1.45"/>
<circle cx="414.4" cy="254.0" r="1.45"/>
<circle cx="421.1" cy="251.3" r="1.45"/>
<circle cx="423.8" cy="252.0" r="1.45"/>
<circle cx="429.2" cy="256.7" r="1.45"/>
<circle cx="434.6" cy="256.1" r="1.45"/>
<circle cx="423.2" cy="255.4" r="1.45"/>
<circle cx="385.1" cy="283.6" r="1.45"/>
<circle cx="387.2" cy="284.7" r="1.45"/>
<circle cx="389.1" cy="283.6" r="1.45"/>
<circle cx="393.1" cy="283.6" r="1.45"/>
<circle cx="397.6" cy="280.3" r="1.45"/>
<circle cx="408.4" cy="283.2" r="1.45"/>
<circle cx="386.2" cy="275.6" r="1.45"/>
<circle cx="394.2" cy="273.6" r="1.45"/>
<circle cx="401.6" cy="269.5" r="1.45"/>
<circle cx="410.4" cy="260.1" r="1.45"/>
<circle cx="405.7" cy="258.7" r="1.45"/>
<circle cx="417.8" cy="254.0" r="1.45"/>
<circle cx="426.5" cy="254.7" r="1.45"/>
<circle cx="431.9" cy="252.7" r="1.45"/>
<circle cx="455.5" cy="242.1" r="1.45"/>
<circle cx="448.0" cy="252.1" r="1.45"/>
<circle cx="440.4" cy="255.9" r="1.45"/>
<circle cx="435.6" cy="253.0" r="1.45"/>
<circle cx="433.0" cy="257.3" r="1.45"/>
<circle cx="428.7" cy="257.0" r="1.45"/>
<circle cx="436.4" cy="248.7" r="1.45"/>
<circle cx="430.4" cy="247.8" r="1.45"/>
<circle cx="425.2" cy="247.8" r="1.45"/>
<circle cx="422.6" cy="249.5" r="1.45"/>
<circle cx="423.8" cy="255.9" r="1.45"/>
<circle cx="422.6" cy="259.9" r="1.45"/>
<circle cx="422.6" cy="262.5" r="1.45"/>
</g>
<circle cx="476.2" cy="285.2" r="21.3" fill="#d4d4d4" stroke="#555" stroke-width="0.9"/>
<ellipse cx="459.8" cy="285" rx="22.6" ry="21.2" fill="#454545" stroke="#222" stroke-width="0.8"/>
<clipPath id="vclip"><ellipse cx="459.8" cy="285" rx="22.6" ry="21.2"/></clipPath>
<circle cx="476.2" cy="285.2" r="21.3" fill="#6a6a6a" stroke="#444" stroke-width="0.9" clip-path="url(#vclip)"/>
<text x="459.80" y="262.50" font-size="7.6" text-anchor="middle" fill="#111" stroke="#111" stroke-width="0.28">Vesicle</text>
<text x="489.80" y="262.50" font-size="7.6" text-anchor="middle" fill="#111" stroke="#111" stroke-width="0.28">Cell</text>
<text x="445.40" y="288.60" font-size="8" text-anchor="middle" fill="#111" stroke="#111" stroke-width="0.28">1</text>
<text x="468.80" y="288.60" font-size="8" text-anchor="middle" fill="#111" stroke="#111" stroke-width="0.28">193</text>
<text x="489.50" y="288.60" font-size="8" text-anchor="middle" fill="#111" stroke="#111" stroke-width="0.28">40</text>
<text x="462.00" y="314.20" font-size="7.2" text-anchor="middle" fill="#111" stroke="#111" stroke-width="0.28"># of miRNA detected</text>
<line x1="63.80" y1="382.30" x2="63.80" y2="496.70" stroke="#080808" stroke-width="1.3" />
<line x1="60.80" y1="496.20" x2="65.30" y2="496.20" stroke="#080808" stroke-width="1.1" />
<text x="57.40" y="499.15" font-size="8.2" text-anchor="end" fill="#111" stroke="#111" stroke-width="0.28">0.0</text>
<line x1="63.80" y1="491.66" x2="65.30" y2="491.66" stroke="#222" stroke-width="0.65" />
<line x1="63.80" y1="487.12" x2="65.30" y2="487.12" stroke="#222" stroke-width="0.65" />
<line x1="63.80" y1="482.58" x2="65.30" y2="482.58" stroke="#222" stroke-width="0.65" />
<line x1="63.80" y1="478.04" x2="65.30" y2="478.04" stroke="#222" stroke-width="0.65" />
<line x1="60.80" y1="473.50" x2="65.30" y2="473.50" stroke="#080808" stroke-width="1.1" />
<text x="57.40" y="476.45" font-size="8.2" text-anchor="end" fill="#111" stroke="#111" stroke-width="0.28">0.1</text>
<line x1="63.80" y1="468.96" x2="65.30" y2="468.96" stroke="#222" stroke-width="0.65" />
<line x1="63.80" y1="464.42" x2="65.30" y2="464.42" stroke="#222" stroke-width="0.65" />
<line x1="63.80" y1="459.88" x2="65.30" y2="459.88" stroke="#222" stroke-width="0.65" />
<line x1="63.80" y1="455.34" x2="65.30" y2="455.34" stroke="#222" stroke-width="0.65" />
<line x1="60.80" y1="450.80" x2="65.30" y2="450.80" stroke="#080808" stroke-width="1.1" />
<text x="57.40" y="453.75" font-size="8.2" text-anchor="end" fill="#111" stroke="#111" stroke-width="0.28">0.2</text>
<line x1="63.80" y1="446.26" x2="65.30" y2="446.26" stroke="#222" stroke-width="0.65" />
<line x1="63.80" y1="441.72" x2="65.30" y2="441.72" stroke="#222" stroke-width="0.65" />
<line x1="63.80" y1="437.18" x2="65.30" y2="437.18" stroke="#222" stroke-width="0.65" />
<line x1="63.80" y1="432.64" x2="65.30" y2="432.64" stroke="#222" stroke-width="0.65" />
<line x1="60.80" y1="428.10" x2="65.30" y2="428.10" stroke="#080808" stroke-width="1.1" />
<text x="57.40" y="431.05" font-size="8.2" text-anchor="end" fill="#111" stroke="#111" stroke-width="0.28">0.3</text>
<line x1="63.80" y1="423.56" x2="65.30" y2="423.56" stroke="#222" stroke-width="0.65" />
<line x1="63.80" y1="419.02" x2="65.30" y2="419.02" stroke="#222" stroke-width="0.65" />
<line x1="63.80" y1="414.48" x2="65.30" y2="414.48" stroke="#222" stroke-width="0.65" />
<line x1="63.80" y1="409.94" x2="65.30" y2="409.94" stroke="#222" stroke-width="0.65" />
<line x1="60.80" y1="405.40" x2="65.30" y2="405.40" stroke="#080808" stroke-width="1.1" />
<text x="57.40" y="408.35" font-size="8.2" text-anchor="end" fill="#111" stroke="#111" stroke-width="0.28">0.4</text>
<line x1="63.80" y1="400.86" x2="65.30" y2="400.86" stroke="#222" stroke-width="0.65" />
<line x1="63.80" y1="396.32" x2="65.30" y2="396.32" stroke="#222" stroke-width="0.65" />
<line x1="63.80" y1="391.78" x2="65.30" y2="391.78" stroke="#222" stroke-width="0.65" />
<line x1="63.80" y1="387.24" x2="65.30" y2="387.24" stroke="#222" stroke-width="0.65" />
<line x1="60.80" y1="382.70" x2="65.30" y2="382.70" stroke="#080808" stroke-width="1.1" />
<text x="57.40" y="385.65" font-size="8.2" text-anchor="end" fill="#111" stroke="#111" stroke-width="0.28">0.5</text>
<line x1="60.80" y1="496.20" x2="137.80" y2="496.20" stroke="#080808" stroke-width="1.3" />
<line x1="63.80" y1="496.20" x2="63.80" y2="499.20" stroke="#111" stroke-width="1.0" />
<line x1="100.60" y1="496.20" x2="100.60" y2="499.20" stroke="#111" stroke-width="1.0" />
<line x1="137.40" y1="496.20" x2="137.40" y2="499.20" stroke="#111" stroke-width="1.0" />
<rect x="69.80" y="444.40" width="12.90" height="51.80" fill="#202020" />
<line x1="76.30" y1="428.30" x2="76.30" y2="445.00" stroke="#222" stroke-width="1.0" />
<line x1="73.30" y1="428.30" x2="79.30" y2="428.30" stroke="#222" stroke-width="1.0" />
<rect x="82.70" y="486.20" width="12.10" height="10.00" fill="#a8a8a8" />
<line x1="88.70" y1="484.30" x2="88.70" y2="486.50" stroke="#222" stroke-width="1.0" />
<line x1="86.10" y1="484.30" x2="91.30" y2="484.30" stroke="#222" stroke-width="1.0" />
<rect x="106.10" y="414.80" width="12.90" height="81.40" fill="#202020" />
<line x1="112.60" y1="403.50" x2="112.60" y2="415.00" stroke="#222" stroke-width="1.0" />
<line x1="109.60" y1="403.50" x2="115.60" y2="403.50" stroke="#222" stroke-width="1.0" />
<rect x="119.00" y="486.00" width="12.20" height="10.20" fill="#a8a8a8" />
<line x1="125.10" y1="484.40" x2="125.10" y2="486.50" stroke="#222" stroke-width="1.0" />
<line x1="122.50" y1="484.40" x2="127.70" y2="484.40" stroke="#222" stroke-width="1.0" />
<text x="82.60" y="509.30" font-size="7.9" text-anchor="middle" fill="#111" stroke="#111" stroke-width="0.28">VRM</text>
<text x="118.70" y="509.30" font-size="7.9" text-anchor="middle" fill="#111" stroke="#111" stroke-width="0.28">Medium</text>
<rect x="67.60" y="380.90" width="4.50" height="4.50" fill="#202020" />
<text x="73.50" y="385.80" font-size="7.7" fill="#111" stroke="#111" stroke-width="0.28">SDF-1</text>
<rect x="98.90" y="381.40" width="3.60" height="3.60" fill="#b0b0b0" />
<text x="104.60" y="385.80" font-size="7.6" fill="#111" stroke="#111" stroke-width="0.28">No-SDF-1</text>
<path d="M70.0,408.6 L70.0,403.2 L105.8,403.2" stroke="#3a3a3a" stroke-width="1.1" fill="none" />
<text x="74.60" y="400.60" font-size="6.2" fill="#111" stroke="#111" stroke-width="0.28"><tspan font-style="italic">P</tspan> &lt; 0.05</text>
<text x="76.20" y="426.00" font-size="12.5" text-anchor="middle" fill="#111" stroke="#111" stroke-width="0.28">*</text>
<text x="0" y="0" font-size="9.8" text-anchor="middle" fill="#111" transform="translate(39.70 442.70) rotate(-90) scale(1 0.96)" stroke="#111" stroke-width="0.28">Fraction of cells migrated</text>
<path d="M217.5,495.0 L217.5,482.3 L218.2,482.4 L218.8,481.9 L219.5,481.9 L220.1,481.6 L220.8,480.7 L221.4,480.3 L222.0,481.0 L222.7,479.9 L223.3,479.4 L223.9,480.1 L224.6,479.0 L225.3,478.5 L226.0,477.0 L226.6,475.9 L227.2,473.8 L227.9,472.7 L228.5,471.3 L229.2,468.6 L229.8,466.5 L230.4,463.9 L231.0,459.5 L231.6,458.1 L232.2,454.3 L232.9,450.2 L233.6,446.3 L234.2,444.8 L234.8,440.9 L235.4,437.3 L236.1,433.5 L236.7,429.0 L237.6,419.9 L238.7,409.0 L239.6,400.7 L240.6,391.8 L241.6,387.0 L242.3,384.3 L242.9,383.9 L243.6,380.7 L244.4,382.6 L245.2,381.0 L246.0,378.4 L246.6,381.3 L247.2,385.6 L247.7,390.0 L248.5,398.7 L249.2,407.0 L249.9,414.2 L250.6,421.0 L251.2,426.5 L251.8,430.8 L252.4,436.1 L253.0,440.8 L253.6,445.1 L254.2,448.4 L254.8,451.3 L255.4,456.8 L256.0,461.0 L256.6,463.7 L257.1,465.9 L257.7,469.0 L258.3,470.8 L258.9,474.9 L259.4,477.3 L260.0,479.7 L260.6,481.2 L261.1,483.7 L261.7,485.4 L262.2,486.4 L262.8,488.5 L263.3,490.0 L263.9,491.6 L264.4,493.3 L265.0,495.0 Z" stroke="#8c8c8c" stroke-width="0.8" fill="#d6d6d6" />
<path d="M258.0,495.0 L258.7,476.9 L259.3,458.9 L260.0,440.7 L260.7,432.7 L261.3,423.9 L262.0,416.0 L262.6,410.0 L263.1,407.3 L263.7,404.6 L264.6,401.9 L265.6,401.6 L266.3,403.1 L266.9,405.9 L267.6,394.4 L268.4,386.1 L269.4,379.0 L270.0,381.8 L270.6,379.8 L271.3,382.8 L271.8,382.5 L272.3,381.0 L273.2,382.7 L274.2,383.0 L274.8,385.1 L275.2,390.3 L275.9,396.1 L276.5,402.3 L277.3,412.9 L278.1,420.1 L279.0,429.3 L280.0,439.3 L280.4,447.1 L281.1,448.3 L281.9,452.6 L282.5,455.6 L283.1,460.0 L284.2,460.5 L285.0,466.9 L285.8,470.9 L286.5,474.5 L287.2,477.4 L287.9,479.5 L288.7,480.7 L289.5,481.6 L290.1,482.2 L290.6,482.7 L291.2,483.6 L291.9,484.5 L292.5,484.5 L293.2,485.8 L293.9,486.0 L294.5,486.4 L295.2,487.3 L295.9,487.6 L296.5,488.0 L297.2,488.6 L297.9,489.1 L298.5,489.2 L299.2,490.0 L299.8,489.8 L300.3,490.3 L300.9,490.6 L301.4,490.4 L302.0,490.9 L302.6,490.9 L303.3,491.1 L304.0,491.1 L304.6,491.2 L305.2,491.5 L305.8,491.9 L306.4,491.8 L306.9,492.1 L307.5,492.3 L308.1,492.5 L308.7,492.5 L309.4,492.3 L310.0,492.2 L310.7,492.1 L311.4,491.7 L312.0,491.7 L312.7,491.5 L313.4,491.4 L314.0,490.9 L314.7,491.1 L315.4,490.6 L316.1,491.0 L316.7,491.4 L317.4,491.7 L318.1,491.9 L318.7,492.3 L319.4,492.5 L320.0,492.6 L320.6,492.7 L321.2,492.8 L321.8,493.0 L322.4,493.1 L323.0,493.3 L323.6,493.5 L324.3,493.5 L324.9,493.5 L325.6,493.8 L326.2,493.8 L326.8,493.8 L327.3,493.8 L327.9,493.9 L328.4,494.0 L329.0,494.0 L329.5,494.0 L330.1,494.0 L330.7,494.1 L331.2,494.1 L331.8,494.2 L332.3,494.2 L332.9,494.2 L333.4,494.3 L334.0,494.3 L334.6,494.4 L335.2,494.4 L335.8,494.5 L336.3,494.5 L336.9,494.6 L337.5,494.7 L338.1,494.7 L338.7,494.8 L339.2,494.8 L339.8,494.9 L340.4,494.9 L341.0,495.0 Z" stroke="#000" stroke-width="0.5" fill="#000" />
<path d="M217.5,495.0 L217.5,493.8 L218.1,492.9 L218.6,492.2 L219.2,491.3 L219.8,491.2 L220.3,491.0 L220.9,490.6 L221.5,490.6 L222.1,490.3 L222.6,490.3 L223.2,490.0 L223.7,489.9 L224.3,489.9 L224.8,490.0 L225.4,489.5 L226.1,489.4 L226.7,489.5 L227.3,489.5 L228.0,489.1 L228.7,488.8 L229.3,488.9 L230.0,488.1 L230.6,487.7 L231.2,486.4 L231.8,485.0 L232.3,483.6 L233.4,479.7 L234.4,477.9 L235.1,475.1 L235.8,474.0 L236.5,472.3 L237.2,470.1 L237.8,468.8 L238.5,466.0 L239.2,465.0 L240.0,464.4 L240.8,464.4 L241.5,462.8 L242.3,457.6 L243.0,453.2 L243.8,449.9 L244.6,446.6 L245.2,444.8 L245.9,441.8 L246.5,437.9 L247.2,435.8 L247.8,432.9 L248.5,430.8 L249.4,425.5 L250.2,420.3 L250.9,417.0 L251.6,410.2 L252.3,406.1 L253.1,402.1 L253.7,398.0 L254.3,396.0 L255.4,390.9 L256.3,387.4 L257.3,379.4 L258.0,385.2 L258.8,390.8 L259.8,387.6 L260.8,387.5 L261.5,389.2 L262.1,390.2 L262.7,395.9 L263.3,402.2 L264.2,402.0 L265.2,399.5 L265.9,405.4 L266.5,410.2 L267.2,416.0 L268.0,420.3 L268.7,425.3 L269.4,429.2 L270.1,431.8 L270.9,435.7 L271.6,439.3 L272.3,440.8 L273.0,444.0 L273.7,445.5 L274.4,450.9 L275.2,456.3 L275.8,459.0 L276.4,458.8 L277.0,462.2 L277.7,465.8 L278.4,469.0 L279.0,469.5 L279.6,473.1 L280.3,476.1 L281.0,479.2 L281.7,481.6 L282.4,482.8 L283.0,483.3 L283.7,484.3 L284.4,485.1 L285.1,486.3 L285.8,487.1 L286.5,487.3 L287.2,487.9 L287.8,488.5 L288.5,489.1 L289.1,489.6 L289.8,490.0 L290.4,490.3 L291.0,490.6 L291.6,491.0 L292.2,491.2 L292.7,491.5 L293.3,491.8 L293.9,492.0 L294.5,492.1 L295.1,492.2 L295.8,492.4 L296.4,492.4 L297.0,492.8 L297.6,492.8 L298.2,492.9 L298.8,493.0 L299.4,493.0 L300.1,493.1 L300.7,493.1 L301.3,493.2 L301.9,493.2 L302.5,493.2 L303.0,493.2 L303.6,493.2 L304.2,493.2 L304.7,493.1 L305.3,493.1 L305.9,493.1 L306.4,493.1 L307.0,493.1 L307.6,493.0 L308.1,493.0 L308.7,492.9 L309.3,492.8 L309.9,492.8 L310.4,492.7 L311.0,492.7 L311.6,492.5 L312.1,492.6 L312.7,492.6 L313.3,492.6 L313.8,492.8 L314.4,492.8 L314.9,493.0 L315.5,493.2 L316.1,493.2 L316.8,493.4 L317.4,493.4 L318.0,493.4 L318.6,493.6 L319.1,493.6 L319.7,493.6 L320.3,493.6 L320.9,493.6 L321.4,493.7 L322.0,493.8 L322.6,493.8 L323.1,493.8 L323.7,493.8 L324.3,493.9 L324.9,493.9 L325.4,494.0 L326.0,494.0 L326.6,494.1 L327.1,494.1 L327.7,494.1 L328.3,494.2 L328.9,494.2 L329.4,494.2 L330.0,494.3 L330.6,494.3 L331.1,494.3 L331.7,494.3 L332.3,494.4 L332.9,494.4 L333.4,494.4 L334.0,494.5 L334.6,494.5 L335.2,494.6 L335.8,494.6 L336.3,494.7 L336.9,494.7 L337.5,494.8 L338.1,494.8 L338.7,494.8 L339.2,494.9 L339.8,494.9 L340.4,495.0 L341.0,495.0 Z" stroke="#3c3c3c" stroke-width="0.5" fill="#474747" />
<line x1="217.50" y1="371.50" x2="217.50" y2="495.50" stroke="#111" stroke-width="1.4" />
<line x1="217.00" y1="495.00" x2="342.80" y2="495.00" stroke="#111" stroke-width="1.4" />
<line x1="214.30" y1="495.00" x2="217.50" y2="495.00" stroke="#111" stroke-width="1.1" />
<text x="212.60" y="497.40" font-size="6.5" text-anchor="end" font-weight="bold" fill="#111" stroke="#111" stroke-width="0.3">0</text>
<line x1="215.80" y1="489.14" x2="217.50" y2="489.14" stroke="#111" stroke-width="0.8" />
<line x1="215.80" y1="483.28" x2="217.50" y2="483.28" stroke="#111" stroke-width="0.8" />
<line x1="215.80" y1="477.42" x2="217.50" y2="477.42" stroke="#111" stroke-width="0.8" />
<line x1="214.30" y1="471.56" x2="217.50" y2="471.56" stroke="#111" stroke-width="1.1" />
<text x="212.60" y="473.96" font-size="6.5" text-anchor="end" font-weight="bold" fill="#111" stroke="#111" stroke-width="0.3">20</text>
<line x1="215.80" y1="465.70" x2="217.50" y2="465.70" stroke="#111" stroke-width="0.8" />
<line x1="215.80" y1="459.84" x2="217.50" y2="459.84" stroke="#111" stroke-width="0.8" />
<line x1="215.80" y1="453.98" x2="217.50" y2="453.98" stroke="#111" stroke-width="0.8" />
<line x1="214.30" y1="448.12" x2="217.50" y2="448.12" stroke="#111" stroke-width="1.1" />
<text x="212.60" y="450.52" font-size="6.5" text-anchor="end" font-weight="bold" fill="#111" stroke="#111" stroke-width="0.3">40</text>
<line x1="215.80" y1="442.26" x2="217.50" y2="442.26" stroke="#111" stroke-width="0.8" />
<line x1="215.80" y1="436.40" x2="217.50" y2="436.40" stroke="#111" stroke-width="0.8" />
<line x1="215.80" y1="430.54" x2="217.50" y2="430.54" stroke="#111" stroke-width="0.8" />
<line x1="214.30" y1="424.68" x2="217.50" y2="424.68" stroke="#111" stroke-width="1.1" />
<text x="212.60" y="427.08" font-size="6.5" text-anchor="end" font-weight="bold" fill="#111" stroke="#111" stroke-width="0.3">60</text>
<line x1="215.80" y1="418.82" x2="217.50" y2="418.82" stroke="#111" stroke-width="0.8" />
<line x1="215.80" y1="412.96" x2="217.50" y2="412.96" stroke="#111" stroke-width="0.8" />
<line x1="215.80" y1="407.10" x2="217.50" y2="407.10" stroke="#111" stroke-width="0.8" />
<line x1="214.30" y1="401.24" x2="217.50" y2="401.24" stroke="#111" stroke-width="1.1" />
<text x="212.60" y="403.64" font-size="6.5" text-anchor="end" font-weight="bold" fill="#111" stroke="#111" stroke-width="0.3">80</text>
<line x1="215.80" y1="395.38" x2="217.50" y2="395.38" stroke="#111" stroke-width="0.8" />
<line x1="215.80" y1="389.52" x2="217.50" y2="389.52" stroke="#111" stroke-width="0.8" />
<line x1="215.80" y1="383.66" x2="217.50" y2="383.66" stroke="#111" stroke-width="0.8" />
<line x1="214.30" y1="377.80" x2="217.50" y2="377.80" stroke="#111" stroke-width="1.1" />
<text x="212.60" y="380.20" font-size="6.5" text-anchor="end" font-weight="bold" fill="#111" stroke="#111" stroke-width="0.3">100</text>
<line x1="215.80" y1="371.94" x2="217.50" y2="371.94" stroke="#111" stroke-width="0.8" />
<line x1="217.50" y1="495.00" x2="217.50" y2="498.40" stroke="#111" stroke-width="1.1" />
<text x="216.90" y="508.60" font-size="6.9" text-anchor="middle" font-weight="bold" fill="#111" stroke="#111" stroke-width="0.15">10<tspan font-size="5.4" dy="-3.1">0</tspan></text>
<line x1="226.92" y1="495.00" x2="226.92" y2="496.70" stroke="#111" stroke-width="0.6" />
<line x1="232.43" y1="495.00" x2="232.43" y2="496.70" stroke="#111" stroke-width="0.6" />
<line x1="236.34" y1="495.00" x2="236.34" y2="496.70" stroke="#111" stroke-width="0.6" />
<line x1="239.38" y1="495.00" x2="239.38" y2="496.70" stroke="#111" stroke-width="0.6" />
<line x1="241.86" y1="495.00" x2="241.86" y2="496.70" stroke="#111" stroke-width="0.6" />
<line x1="243.95" y1="495.00" x2="243.95" y2="496.70" stroke="#111" stroke-width="0.6" />
<line x1="245.77" y1="495.00" x2="245.77" y2="496.70" stroke="#111" stroke-width="0.6" />
<line x1="247.37" y1="495.00" x2="247.37" y2="496.70" stroke="#111" stroke-width="0.6" />
<line x1="248.80" y1="495.00" x2="248.80" y2="498.40" stroke="#111" stroke-width="1.1" />
<text x="248.20" y="508.60" font-size="6.9" text-anchor="middle" font-weight="bold" fill="#111" stroke="#111" stroke-width="0.15">10<tspan font-size="5.4" dy="-3.1">1</tspan></text>
<line x1="258.22" y1="495.00" x2="258.22" y2="496.70" stroke="#111" stroke-width="0.6" />
<line x1="263.73" y1="495.00" x2="263.73" y2="496.70" stroke="#111" stroke-width="0.6" />
<line x1="267.64" y1="495.00" x2="267.64" y2="496.70" stroke="#111" stroke-width="0.6" />
<line x1="270.68" y1="495.00" x2="270.68" y2="496.70" stroke="#111" stroke-width="0.6" />
<line x1="273.16" y1="495.00" x2="273.16" y2="496.70" stroke="#111" stroke-width="0.6" />
<line x1="275.25" y1="495.00" x2="275.25" y2="496.70" stroke="#111" stroke-width="0.6" />
<line x1="277.07" y1="495.00" x2="277.07" y2="496.70" stroke="#111" stroke-width="0.6" />
<line x1="278.67" y1="495.00" x2="278.67" y2="496.70" stroke="#111" stroke-width="0.6" />
<line x1="280.10" y1="495.00" x2="280.10" y2="498.40" stroke="#111" stroke-width="1.1" />
<text x="279.50" y="508.60" font-size="6.9" text-anchor="middle" font-weight="bold" fill="#111" stroke="#111" stroke-width="0.15">10<tspan font-size="5.4" dy="-3.1">2</tspan></text>
<line x1="289.52" y1="495.00" x2="289.52" y2="496.70" stroke="#111" stroke-width="0.6" />
<line x1="295.03" y1="495.00" x2="295.03" y2="496.70" stroke="#111" stroke-width="0.6" />
<line x1="298.94" y1="495.00" x2="298.94" y2="496.70" stroke="#111" stroke-width="0.6" />
<line x1="301.98" y1="495.00" x2="301.98" y2="496.70" stroke="#111" stroke-width="0.6" />
<line x1="304.46" y1="495.00" x2="304.46" y2="496.70" stroke="#111" stroke-width="0.6" />
<line x1="306.55" y1="495.00" x2="306.55" y2="496.70" stroke="#111" stroke-width="0.6" />
<line x1="308.37" y1="495.00" x2="308.37" y2="496.70" stroke="#111" stroke-width="0.6" />
<line x1="309.97" y1="495.00" x2="309.97" y2="496.70" stroke="#111" stroke-width="0.6" />
<line x1="311.40" y1="495.00" x2="311.40" y2="498.40" stroke="#111" stroke-width="1.1" />
<text x="310.80" y="508.60" font-size="6.9" text-anchor="middle" font-weight="bold" fill="#111" stroke="#111" stroke-width="0.15">10<tspan font-size="5.4" dy="-3.1">3</tspan></text>
<line x1="320.82" y1="495.00" x2="320.82" y2="496.70" stroke="#111" stroke-width="0.6" />
<line x1="326.33" y1="495.00" x2="326.33" y2="496.70" stroke="#111" stroke-width="0.6" />
<line x1="330.24" y1="495.00" x2="330.24" y2="496.70" stroke="#111" stroke-width="0.6" />
<line x1="333.28" y1="495.00" x2="333.28" y2="496.70" stroke="#111" stroke-width="0.6" />
<line x1="335.76" y1="495.00" x2="335.76" y2="496.70" stroke="#111" stroke-width="0.6" />
<line x1="337.85" y1="495.00" x2="337.85" y2="496.70" stroke="#111" stroke-width="0.6" />
<line x1="339.67" y1="495.00" x2="339.67" y2="496.70" stroke="#111" stroke-width="0.6" />
<line x1="341.27" y1="495.00" x2="341.27" y2="496.70" stroke="#111" stroke-width="0.6" />
<line x1="342.70" y1="495.00" x2="342.70" y2="498.40" stroke="#111" stroke-width="1.1" />
<text x="342.10" y="508.60" font-size="6.9" text-anchor="middle" font-weight="bold" fill="#111" stroke="#111" stroke-width="0.15">10<tspan font-size="5.4" dy="-3.1">4</tspan></text>
<text x="279.30" y="517.50" font-size="9.3" text-anchor="middle" fill="#111" stroke="#111" stroke-width="0.28">CXCR4</text>
<text x="0" y="0" font-size="9.5" text-anchor="middle" fill="#111" transform="translate(195.40 437.00) rotate(-90) scale(1 0.95)" stroke="#111" stroke-width="0.28">Events (% max)</text>
<rect x="284.80" y="386.20" width="14.40" height="3.10" fill="#000" />
<text x="301.50" y="390.30" font-size="8.2" fill="#111" stroke="#111" stroke-width="0.28">Medium</text>
<rect x="284.80" y="394.90" width="14.40" height="3.10" fill="#474747" />
<text x="301.50" y="400.20" font-size="8.2" fill="#111" stroke="#111" stroke-width="0.28">VRM</text>
<rect x="284.80" y="405.50" width="14.40" height="3.00" fill="#9a9a9a" />
<text x="301.50" y="410.30" font-size="8.2" fill="#111" stroke="#111" stroke-width="0.28">IgG isotype</text>
<line x1="399.20" y1="375.88" x2="399.20" y2="473.20" stroke="#080808" stroke-width="1.3" />
<line x1="396.20" y1="472.70" x2="400.70" y2="472.70" stroke="#080808" stroke-width="1.1" />
<text x="392.30" y="475.44" font-size="7.6" text-anchor="end" fill="#111" stroke="#111" stroke-width="0.28">0</text>
<line x1="399.20" y1="469.49" x2="400.70" y2="469.49" stroke="#222" stroke-width="0.65" />
<line x1="399.20" y1="466.27" x2="400.70" y2="466.27" stroke="#222" stroke-width="0.65" />
<line x1="399.20" y1="463.06" x2="400.70" y2="463.06" stroke="#222" stroke-width="0.65" />
<line x1="399.20" y1="459.84" x2="400.70" y2="459.84" stroke="#222" stroke-width="0.65" />
<line x1="396.20" y1="456.63" x2="400.70" y2="456.63" stroke="#080808" stroke-width="1.1" />
<text x="392.30" y="459.37" font-size="7.6" text-anchor="end" fill="#111" stroke="#111" stroke-width="0.28">10</text>
<line x1="399.20" y1="453.42" x2="400.70" y2="453.42" stroke="#222" stroke-width="0.65" />
<line x1="399.20" y1="450.20" x2="400.70" y2="450.20" stroke="#222" stroke-width="0.65" />
<line x1="399.20" y1="446.99" x2="400.70" y2="446.99" stroke="#222" stroke-width="0.65" />
<line x1="399.20" y1="443.77" x2="400.70" y2="443.77" stroke="#222" stroke-width="0.65" />
<line x1="396.20" y1="440.56" x2="400.70" y2="440.56" stroke="#080808" stroke-width="1.1" />
<text x="392.30" y="443.30" font-size="7.6" text-anchor="end" fill="#111" stroke="#111" stroke-width="0.28">20</text>
<line x1="399.20" y1="437.35" x2="400.70" y2="437.35" stroke="#222" stroke-width="0.65" />
<line x1="399.20" y1="434.13" x2="400.70" y2="434.13" stroke="#222" stroke-width="0.65" />
<line x1="399.20" y1="430.92" x2="400.70" y2="430.92" stroke="#222" stroke-width="0.65" />
<line x1="399.20" y1="427.70" x2="400.70" y2="427.70" stroke="#222" stroke-width="0.65" />
<line x1="396.20" y1="424.49" x2="400.70" y2="424.49" stroke="#080808" stroke-width="1.1" />
<text x="392.30" y="427.23" font-size="7.6" text-anchor="end" fill="#111" stroke="#111" stroke-width="0.28">30</text>
<line x1="399.20" y1="421.28" x2="400.70" y2="421.28" stroke="#222" stroke-width="0.65" />
<line x1="399.20" y1="418.06" x2="400.70" y2="418.06" stroke="#222" stroke-width="0.65" />
<line x1="399.20" y1="414.85" x2="400.70" y2="414.85" stroke="#222" stroke-width="0.65" />
<line x1="399.20" y1="411.63" x2="400.70" y2="411.63" stroke="#222" stroke-width="0.65" />
<line x1="396.20" y1="408.42" x2="400.70" y2="408.42" stroke="#080808" stroke-width="1.1" />
<text x="392.30" y="411.16" font-size="7.6" text-anchor="end" fill="#111" stroke="#111" stroke-width="0.28">40</text>
<line x1="399.20" y1="405.21" x2="400.70" y2="405.21" stroke="#222" stroke-width="0.65" />
<line x1="399.20" y1="401.99" x2="400.70" y2="401.99" stroke="#222" stroke-width="0.65" />
<line x1="399.20" y1="398.78" x2="400.70" y2="398.78" stroke="#222" stroke-width="0.65" />
<line x1="399.20" y1="395.56" x2="400.70" y2="395.56" stroke="#222" stroke-width="0.65" />
<line x1="396.20" y1="392.35" x2="400.70" y2="392.35" stroke="#080808" stroke-width="1.1" />
<text x="392.30" y="395.09" font-size="7.6" text-anchor="end" fill="#111" stroke="#111" stroke-width="0.28">50</text>
<line x1="399.20" y1="389.14" x2="400.70" y2="389.14" stroke="#222" stroke-width="0.65" />
<line x1="399.20" y1="385.92" x2="400.70" y2="385.92" stroke="#222" stroke-width="0.65" />
<line x1="399.20" y1="382.71" x2="400.70" y2="382.71" stroke="#222" stroke-width="0.65" />
<line x1="399.20" y1="379.49" x2="400.70" y2="379.49" stroke="#222" stroke-width="0.65" />
<line x1="396.20" y1="376.28" x2="400.70" y2="376.28" stroke="#080808" stroke-width="1.1" />
<text x="392.30" y="379.02" font-size="7.6" text-anchor="end" fill="#111" stroke="#111" stroke-width="0.28">60</text>
<line x1="396.20" y1="472.70" x2="474.20" y2="472.70" stroke="#080808" stroke-width="1.3" />
<line x1="399.20" y1="472.70" x2="399.20" y2="475.70" stroke="#111" stroke-width="1.0" />
<line x1="424.00" y1="472.70" x2="424.00" y2="475.70" stroke="#111" stroke-width="1.0" />
<line x1="449.00" y1="472.70" x2="449.00" y2="475.70" stroke="#111" stroke-width="1.0" />
<line x1="474.00" y1="472.70" x2="474.00" y2="475.70" stroke="#111" stroke-width="1.0" />
<rect x="405.40" y="400.00" width="12.10" height="72.70" fill="#0a0a0a" />
<line x1="411.50" y1="393.40" x2="411.50" y2="400.50" stroke="#222" stroke-width="1.0" />
<line x1="409.50" y1="393.40" x2="413.50" y2="393.40" stroke="#222" stroke-width="1.0" />
<rect x="430.40" y="435.50" width="12.10" height="37.20" fill="#484848" />
<line x1="436.50" y1="425.80" x2="436.50" y2="436.00" stroke="#444" stroke-width="1.0" />
<line x1="434.50" y1="425.80" x2="438.50" y2="425.80" stroke="#444" stroke-width="1.0" />
<rect x="455.20" y="470.00" width="12.10" height="2.70" fill="#c4c4c4" />
<line x1="461.30" y1="469.20" x2="461.30" y2="470.20" stroke="#999" stroke-width="1.0" />
<line x1="459.80" y1="469.20" x2="462.80" y2="469.20" stroke="#999" stroke-width="1.0" />
<path d="M411.2,388.7 L411.2,383.3 L436.6,383.3 L436.6,388.7" stroke="#333" stroke-width="1.0" fill="none" />
<text x="411.30" y="379.90" font-size="6.4" fill="#111" stroke="#111" stroke-width="0.28"><tspan font-style="italic">P</tspan> &lt; 0.05</text>
<text x="436.60" y="411.30" font-size="10.5" text-anchor="middle" fill="#111" stroke="#111" stroke-width="0.28">*</text>
<text x="0" y="0" font-size="7.9" text-anchor="end" fill="#111" transform="translate(414.10 478.30) rotate(-90) scale(1 0.9)" stroke="#111" stroke-width="0.28">Medium</text>
<text x="0" y="0" font-size="7.9" text-anchor="end" fill="#111" transform="translate(438.00 478.30) rotate(-90) scale(1 0.9)" stroke="#111" stroke-width="0.28">VRM</text>
<text x="0" y="0" font-size="7.9" text-anchor="end" fill="#111" transform="translate(463.60 478.30) rotate(-90) scale(1 0.9)" stroke="#111" stroke-width="0.28">IgG isotype</text>
<text x="0" y="0" font-size="8.67" text-anchor="middle" fill="#111" transform="translate(376.40 430.00) rotate(-90) scale(1 0.87)" stroke="#111" stroke-width="0.28">Median fluorescence intensity</text>
</svg>
<div class="frame"></div>
</body>
</html>
